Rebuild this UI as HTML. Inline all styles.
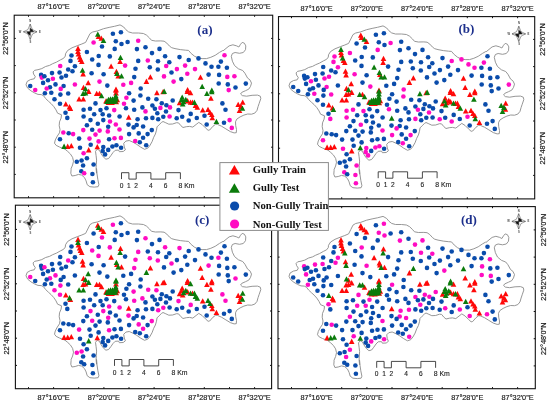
<!DOCTYPE html><html><head><meta charset="utf-8"><title>Gully sample maps</title><style>html,body{margin:0;padding:0;background:#fff}svg{display:block}text{font-family:"Liberation Sans",Arial,sans-serif}.s{font-family:"Liberation Serif","Times New Roman",serif;font-weight:bold}</style></head><body>
<svg width="550" height="403" viewBox="0 0 550 403">
<rect width="550" height="403" fill="#fff"/>
<g id="panel-a">
<path d="M61.5 114.8L57.6 113.2L56.0 109.9L53.8 106.6L51.1 103.6L48.4 101.2L45.6 98.5L43.5 95.7L41.3 94.6L38.0 94.4L34.7 93.0L30.9 90.8L27.6 88.1L26.0 84.8L27.1 81.5L30.4 79.6L34.2 78.8L35.3 76.6L33.6 74.1L33.1 71.9L34.7 70.3L38.0 69.7L41.8 68.6L45.6 66.5L49.5 65.4L52.7 63.7L56.5 62.1L60.4 59.9L63.6 58.3L65.3 56.1L65.5 53.8L67.6 50.5L72.0 47.8L77.5 45.6L81.8 44.0L85.6 42.4L87.8 38.0L90.0 33.6L92.7 32.0L97.6 30.9L103.6 28.7L109.1 27.4L114.5 26.3L120.0 24.9L121.0 25.4L123.7 27.0L125.9 29.7L128.6 31.9L132.5 33.0L138.5 33.0L143.4 33.5L146.6 35.2L149.4 37.9L151.5 40.3L155.4 41.0L160.8 40.9L164.1 41.2L166.8 43.1L169.5 46.1L171.7 47.7L175.0 48.6L180.3 49.6L185.7 50.2L188.5 50.4L191.2 53.5L194.5 56.2L197.7 57.8L202.1 58.6L206.5 58.6L210.8 57.3L215.2 55.3L219.5 52.4L222.8 50.5L223.1 50.8L229.1 45.9L232.9 44.8L236.7 45.9L238.9 47.0L240.5 44.3L242.2 42.4L244.4 43.2L245.8 45.9L245.5 49.7L243.3 52.5L239.5 53.3L235.1 52.5L232.4 53.5L231.3 56.3L232.4 61.2L234.5 65.5L238.4 68.8L242.7 70.5L244.9 73.2L247.6 78.1L249.9 79.8L251.5 83.1L250.5 86.4L248.8 89.1L245.5 90.7L241.7 92.4L240.6 94.0L242.3 95.6L246.6 96.2L252.1 95.3L257.5 95.1L260.3 96.2L260.8 98.6L259.2 103.3L258.1 106.5L257.0 110.4L254.8 113.1L251.5 114.2L247.7 114.0L243.9 115.1L240.1 116.9L236.8 119.1L235.5 121.8L235.7 125.6L236.5 129.5L236.3 132.7L234.1 132.9L230.3 131.6L225.9 128.9L221.5 126.2L217.7 124.5L215.7 124.2L213.0 126.2L209.7 130.0L208.1 130.3L205.4 127.8L202.1 124.5L198.8 122.4L196.1 124.5L192.8 127.1L189.5 126.4L186.3 126.7L183.0 127.5L180.8 125.6L178.6 122.9L176.5 122.7L172.6 124.0L168.8 124.2L165.2 122.5L163.0 121.5L161.4 122.5L159.2 124.7L157.0 126.9L156.5 130.2L155.4 134.0L153.7 137.3L152.1 141.6L149.9 145.5L147.7 148.2L144.5 149.3L140.6 147.1L136.8 144.4L133.0 142.2L129.2 140.5L125.9 141.1L123.7 143.3L124.3 147.1L125.4 149.8L123.2 151.5L119.4 151.7L118.5 150.1L115.2 150.3L113.0 152.5L110.8 155.7L108.6 158.5L105.9 159.2L103.2 156.8L101.0 153.5L99.4 150.3L97.2 149.2L95.5 151.4L96.1 155.7L96.6 160.1L96.3 164.5L96.1 168.8L96.6 173.2L96.5 168.4L97.0 173.8L97.8 179.3L98.9 184.7L98.1 186.7L94.3 187.1L89.9 186.7L87.2 184.7L86.1 180.9L84.5 177.6L81.7 175.1L78.5 174.4L75.2 175.5L71.9 176.0L70.8 173.3L71.1 169.5L71.0 168.8L72.6 165.0L73.5 161.2L72.6 157.4L70.5 154.1L67.7 151.4L65.0 149.2L59.5 147.0L56.2 145.4L54.5 143.2L55.3 139.9L57.3 136.1L59.5 132.8L60.0 129.5L59.2 125.7L59.5 121.9L61.1 118.1Z" fill="#fff" stroke="#8a8a8a" stroke-width="0.9" stroke-linejoin="round"/>
<circle cx="112.9" cy="33.8" r="2.3" fill="#0a4cab"/>
<circle cx="115.8" cy="41.3" r="2.3" fill="#0a4cab"/>
<circle cx="93.6" cy="42.5" r="2.3" fill="#ff0cc2"/>
<circle cx="102.0" cy="46.5" r="2.3" fill="#0a4cab"/>
<circle cx="114.7" cy="48.9" r="2.3" fill="#0a4cab"/>
<circle cx="86.9" cy="52.0" r="2.3" fill="#0a4cab"/>
<circle cx="98.7" cy="56.0" r="2.3" fill="#0a4cab"/>
<circle cx="109.8" cy="56.4" r="2.3" fill="#0a4cab"/>
<circle cx="92.2" cy="59.5" r="2.3" fill="#0a4cab"/>
<circle cx="71.5" cy="55.5" r="2.3" fill="#0a4cab"/>
<circle cx="70.5" cy="60.9" r="2.3" fill="#0a4cab"/>
<circle cx="98.5" cy="64.9" r="2.3" fill="#0a4cab"/>
<circle cx="60.2" cy="66.0" r="2.3" fill="#ff0cc2"/>
<circle cx="74.9" cy="66.2" r="2.3" fill="#0a4cab"/>
<circle cx="68.2" cy="69.5" r="2.3" fill="#0a4cab"/>
<circle cx="72.5" cy="71.3" r="2.3" fill="#0a4cab"/>
<circle cx="91.6" cy="73.3" r="2.3" fill="#0a4cab"/>
<circle cx="103.6" cy="74.2" r="2.3" fill="#0a4cab"/>
<circle cx="52.0" cy="73.1" r="2.3" fill="#0a4cab"/>
<circle cx="59.6" cy="72.5" r="2.3" fill="#0a4cab"/>
<circle cx="41.1" cy="74.9" r="2.3" fill="#0a4cab"/>
<circle cx="41.8" cy="77.6" r="2.3" fill="#ff0cc2"/>
<circle cx="44.4" cy="76.2" r="2.3" fill="#0a4cab"/>
<circle cx="61.5" cy="77.5" r="2.3" fill="#0a4cab"/>
<circle cx="66.0" cy="75.8" r="2.3" fill="#0a4cab"/>
<circle cx="52.9" cy="78.7" r="2.3" fill="#ff0cc2"/>
<circle cx="48.0" cy="80.2" r="2.3" fill="#0a4cab"/>
<circle cx="43.1" cy="82.9" r="2.3" fill="#0a4cab"/>
<circle cx="55.5" cy="84.4" r="2.3" fill="#0a4cab"/>
<circle cx="99.5" cy="81.6" r="2.3" fill="#ff0cc2"/>
<circle cx="74.9" cy="84.5" r="2.3" fill="#ff0cc2"/>
<circle cx="30.2" cy="86.0" r="2.3" fill="#0a4cab"/>
<circle cx="50.0" cy="87.3" r="2.3" fill="#0a4cab"/>
<circle cx="63.6" cy="86.0" r="2.3" fill="#0a4cab"/>
<circle cx="35.2" cy="90.0" r="2.3" fill="#ff0cc2"/>
<circle cx="46.7" cy="88.5" r="2.3" fill="#ff0cc2"/>
<circle cx="60.7" cy="88.9" r="2.3" fill="#ff0cc2"/>
<circle cx="107.3" cy="85.6" r="2.3" fill="#0a4cab"/>
<circle cx="120.9" cy="32.2" r="2.3" fill="#0a4cab"/>
<circle cx="127.6" cy="42.0" r="2.3" fill="#0a4cab"/>
<circle cx="121.5" cy="44.0" r="2.3" fill="#0a4cab"/>
<circle cx="138.2" cy="40.7" r="2.3" fill="#ff0cc2"/>
<circle cx="136.9" cy="49.1" r="2.3" fill="#0a4cab"/>
<circle cx="145.5" cy="47.3" r="2.3" fill="#0a4cab"/>
<circle cx="159.5" cy="48.9" r="2.3" fill="#0a4cab"/>
<circle cx="152.0" cy="53.1" r="2.3" fill="#0a4cab"/>
<circle cx="165.1" cy="56.2" r="2.3" fill="#0a4cab"/>
<circle cx="179.5" cy="57.1" r="2.3" fill="#0a4cab"/>
<circle cx="198.5" cy="58.4" r="2.3" fill="#0a4cab"/>
<circle cx="188.7" cy="60.0" r="2.3" fill="#0a4cab"/>
<circle cx="138.2" cy="60.9" r="2.3" fill="#0a4cab"/>
<circle cx="147.8" cy="60.5" r="2.3" fill="#ff0cc2"/>
<circle cx="158.0" cy="61.3" r="2.3" fill="#0a4cab"/>
<circle cx="169.3" cy="62.2" r="2.3" fill="#0a4cab"/>
<circle cx="205.5" cy="63.4" r="2.3" fill="#0a4cab"/>
<circle cx="125.1" cy="65.6" r="2.3" fill="#ff0cc2"/>
<circle cx="166.2" cy="66.0" r="2.3" fill="#ff0cc2"/>
<circle cx="185.1" cy="65.6" r="2.3" fill="#ff0cc2"/>
<circle cx="211.5" cy="66.7" r="2.3" fill="#0a4cab"/>
<circle cx="218.4" cy="66.7" r="2.3" fill="#0a4cab"/>
<circle cx="135.5" cy="68.7" r="2.3" fill="#0a4cab"/>
<circle cx="149.8" cy="67.3" r="2.3" fill="#0a4cab"/>
<circle cx="157.8" cy="69.5" r="2.3" fill="#0a4cab"/>
<circle cx="176.9" cy="69.1" r="2.3" fill="#ff0cc2"/>
<circle cx="195.0" cy="69.1" r="2.3" fill="#ff0cc2"/>
<circle cx="171.5" cy="72.5" r="2.3" fill="#0a4cab"/>
<circle cx="187.3" cy="73.8" r="2.3" fill="#ff0cc2"/>
<circle cx="208.6" cy="74.6" r="2.3" fill="#0a4cab"/>
<circle cx="219.1" cy="74.9" r="2.3" fill="#0a4cab"/>
<circle cx="134.2" cy="77.1" r="2.3" fill="#0a4cab"/>
<circle cx="164.0" cy="76.4" r="2.3" fill="#ff0cc2"/>
<circle cx="181.3" cy="79.1" r="2.3" fill="#0a4cab"/>
<circle cx="173.6" cy="81.6" r="2.3" fill="#ff0cc2"/>
<circle cx="131.1" cy="82.9" r="2.3" fill="#ff0cc2"/>
<circle cx="123.3" cy="84.7" r="2.3" fill="#ff0cc2"/>
<circle cx="140.7" cy="88.5" r="2.3" fill="#0a4cab"/>
<circle cx="218.7" cy="83.5" r="2.3" fill="#0a4cab"/>
<circle cx="224.5" cy="55.3" r="2.3" fill="#ff0cc2"/>
<circle cx="220.9" cy="61.6" r="2.3" fill="#0a4cab"/>
<circle cx="226.9" cy="67.8" r="2.3" fill="#0a4cab"/>
<circle cx="227.3" cy="76.9" r="2.3" fill="#ff0cc2"/>
<circle cx="234.4" cy="76.2" r="2.3" fill="#ff0cc2"/>
<circle cx="227.8" cy="84.4" r="2.3" fill="#0a4cab"/>
<circle cx="245.8" cy="83.6" r="2.3" fill="#0a4cab"/>
<circle cx="235.5" cy="87.5" r="2.3" fill="#0a4cab"/>
<circle cx="228.7" cy="90.1" r="2.3" fill="#ff0cc2"/>
<circle cx="44.9" cy="93.2" r="2.3" fill="#0a4cab"/>
<circle cx="51.3" cy="92.8" r="2.3" fill="#0a4cab"/>
<circle cx="60.4" cy="94.6" r="2.3" fill="#0a4cab"/>
<circle cx="68.2" cy="93.5" r="2.3" fill="#0a4cab"/>
<circle cx="54.5" cy="99.2" r="2.3" fill="#0a4cab"/>
<circle cx="60.0" cy="103.7" r="2.3" fill="#0a4cab"/>
<circle cx="95.5" cy="103.4" r="2.3" fill="#0a4cab"/>
<circle cx="83.6" cy="109.7" r="2.3" fill="#0a4cab"/>
<circle cx="90.0" cy="108.8" r="2.3" fill="#0a4cab"/>
<circle cx="100.5" cy="110.1" r="2.3" fill="#0a4cab"/>
<circle cx="106.5" cy="108.3" r="2.3" fill="#0a4cab"/>
<circle cx="114.2" cy="110.1" r="2.3" fill="#ff0cc2"/>
<circle cx="65.5" cy="112.8" r="2.3" fill="#0a4cab"/>
<circle cx="67.3" cy="117.9" r="2.3" fill="#0a4cab"/>
<circle cx="83.6" cy="116.5" r="2.3" fill="#0a4cab"/>
<circle cx="94.2" cy="114.3" r="2.3" fill="#0a4cab"/>
<circle cx="102.7" cy="114.3" r="2.3" fill="#0a4cab"/>
<circle cx="109.1" cy="115.5" r="2.3" fill="#0a4cab"/>
<circle cx="119.6" cy="116.5" r="2.3" fill="#0a4cab"/>
<circle cx="90.5" cy="120.1" r="2.3" fill="#0a4cab"/>
<circle cx="103.3" cy="120.1" r="2.3" fill="#0a4cab"/>
<circle cx="110.0" cy="121.5" r="2.3" fill="#ff0cc2"/>
<circle cx="86.9" cy="125.2" r="2.3" fill="#0a4cab"/>
<circle cx="97.8" cy="123.7" r="2.3" fill="#0a4cab"/>
<circle cx="115.8" cy="124.5" r="2.3" fill="#ff0cc2"/>
<circle cx="108.2" cy="126.8" r="2.3" fill="#0a4cab"/>
<circle cx="83.3" cy="130.1" r="2.3" fill="#ff0cc2"/>
<circle cx="92.2" cy="129.7" r="2.3" fill="#0a4cab"/>
<circle cx="99.6" cy="130.6" r="2.3" fill="#ff0cc2"/>
<circle cx="107.8" cy="131.4" r="2.3" fill="#ff0cc2"/>
<circle cx="119.5" cy="129.5" r="2.3" fill="#ff0cc2"/>
<circle cx="63.3" cy="132.5" r="2.3" fill="#ff0cc2"/>
<circle cx="68.7" cy="133.2" r="2.3" fill="#0a4cab"/>
<circle cx="73.1" cy="134.1" r="2.3" fill="#ff0cc2"/>
<circle cx="95.5" cy="134.6" r="2.3" fill="#ff0cc2"/>
<circle cx="60.0" cy="139.2" r="2.3" fill="#0a4cab"/>
<circle cx="79.1" cy="138.6" r="2.3" fill="#0a4cab"/>
<circle cx="89.5" cy="138.6" r="2.3" fill="#ff0cc2"/>
<circle cx="109.1" cy="139.2" r="2.3" fill="#0a4cab"/>
<circle cx="114.5" cy="138.3" r="2.3" fill="#ff0cc2"/>
<circle cx="98.6" cy="141.4" r="2.3" fill="#ff0cc2"/>
<circle cx="90.7" cy="144.8" r="2.3" fill="#0a4cab"/>
<circle cx="80.0" cy="147.7" r="2.3" fill="#0a4cab"/>
<circle cx="103.3" cy="147.1" r="2.3" fill="#0a4cab"/>
<circle cx="112.4" cy="146.5" r="2.3" fill="#0a4cab"/>
<circle cx="116.4" cy="145.3" r="2.3" fill="#0a4cab"/>
<circle cx="108.2" cy="149.9" r="2.3" fill="#0a4cab"/>
<circle cx="102.7" cy="151.1" r="2.3" fill="#0a4cab"/>
<circle cx="83.6" cy="153.2" r="2.3" fill="#ff0cc2"/>
<circle cx="105.1" cy="154.4" r="2.3" fill="#0a4cab"/>
<circle cx="86.9" cy="158.2" r="2.3" fill="#0a4cab"/>
<circle cx="81.6" cy="160.5" r="2.3" fill="#0a4cab"/>
<circle cx="76.8" cy="161.7" r="2.3" fill="#0a4cab"/>
<circle cx="129.1" cy="93.2" r="2.3" fill="#0a4cab"/>
<circle cx="140.4" cy="95.5" r="2.3" fill="#0a4cab"/>
<circle cx="126.4" cy="97.7" r="2.3" fill="#ff0cc2"/>
<circle cx="148.2" cy="98.8" r="2.3" fill="#0a4cab"/>
<circle cx="156.4" cy="99.2" r="2.3" fill="#0a4cab"/>
<circle cx="133.6" cy="100.6" r="2.3" fill="#0a4cab"/>
<circle cx="172.7" cy="100.5" r="2.3" fill="#0a4cab"/>
<circle cx="124.0" cy="103.7" r="2.3" fill="#ff0cc2"/>
<circle cx="161.8" cy="103.2" r="2.3" fill="#0a4cab"/>
<circle cx="152.4" cy="105.5" r="2.3" fill="#0a4cab"/>
<circle cx="166.4" cy="105.2" r="2.3" fill="#0a4cab"/>
<circle cx="126.0" cy="108.3" r="2.3" fill="#0a4cab"/>
<circle cx="142.4" cy="107.4" r="2.3" fill="#0a4cab"/>
<circle cx="160.4" cy="107.9" r="2.3" fill="#ff0cc2"/>
<circle cx="170.0" cy="107.4" r="2.3" fill="#ff0cc2"/>
<circle cx="154.9" cy="108.8" r="2.3" fill="#0a4cab"/>
<circle cx="134.2" cy="109.7" r="2.3" fill="#0a4cab"/>
<circle cx="145.5" cy="111.4" r="2.3" fill="#ff0cc2"/>
<circle cx="166.0" cy="111.5" r="2.3" fill="#0a4cab"/>
<circle cx="178.5" cy="110.1" r="2.3" fill="#0a4cab"/>
<circle cx="157.3" cy="113.2" r="2.3" fill="#0a4cab"/>
<circle cx="163.3" cy="116.8" r="2.3" fill="#0a4cab"/>
<circle cx="169.6" cy="116.5" r="2.3" fill="#ff0cc2"/>
<circle cx="137.6" cy="119.2" r="2.3" fill="#0a4cab"/>
<circle cx="146.0" cy="118.3" r="2.3" fill="#0a4cab"/>
<circle cx="152.4" cy="117.9" r="2.3" fill="#0a4cab"/>
<circle cx="158.2" cy="119.2" r="2.3" fill="#0a4cab"/>
<circle cx="176.7" cy="118.3" r="2.3" fill="#0a4cab"/>
<circle cx="182.2" cy="116.8" r="2.3" fill="#0a4cab"/>
<circle cx="190.7" cy="113.9" r="2.3" fill="#0a4cab"/>
<circle cx="188.7" cy="120.5" r="2.3" fill="#0a4cab"/>
<circle cx="196.8" cy="118.0" r="2.3" fill="#0a4cab"/>
<circle cx="204.5" cy="115.7" r="2.3" fill="#0a4cab"/>
<circle cx="206.7" cy="124.5" r="2.3" fill="#0a4cab"/>
<circle cx="128.5" cy="124.6" r="2.3" fill="#0a4cab"/>
<circle cx="136.7" cy="125.0" r="2.3" fill="#0a4cab"/>
<circle cx="133.6" cy="127.4" r="2.3" fill="#0a4cab"/>
<circle cx="143.1" cy="126.5" r="2.3" fill="#0a4cab"/>
<circle cx="151.8" cy="130.1" r="2.3" fill="#0a4cab"/>
<circle cx="129.1" cy="134.1" r="2.3" fill="#0a4cab"/>
<circle cx="138.7" cy="133.4" r="2.3" fill="#0a4cab"/>
<circle cx="147.6" cy="134.1" r="2.3" fill="#0a4cab"/>
<circle cx="120.9" cy="137.9" r="2.3" fill="#ff0cc2"/>
<circle cx="143.1" cy="137.7" r="2.3" fill="#0a4cab"/>
<circle cx="135.2" cy="141.0" r="2.3" fill="#ff0cc2"/>
<circle cx="139.8" cy="142.3" r="2.3" fill="#0a4cab"/>
<circle cx="146.2" cy="145.3" r="2.3" fill="#0a4cab"/>
<circle cx="121.1" cy="147.7" r="2.3" fill="#0a4cab"/>
<circle cx="222.4" cy="103.4" r="2.3" fill="#0a4cab"/>
<circle cx="225.5" cy="109.7" r="2.3" fill="#0a4cab"/>
<circle cx="224.0" cy="122.8" r="2.3" fill="#0a4cab"/>
<circle cx="229.6" cy="120.1" r="2.3" fill="#ff0cc2"/>
<circle cx="231.8" cy="127.9" r="2.3" fill="#ff0cc2"/>
<circle cx="93.6" cy="164.5" r="2.3" fill="#0a4cab"/>
<circle cx="83.1" cy="165.5" r="2.3" fill="#0a4cab"/>
<circle cx="81.3" cy="171.3" r="2.3" fill="#0a4cab"/>
<circle cx="84.2" cy="173.3" r="2.3" fill="#ff0cc2"/>
<circle cx="92.4" cy="174.0" r="2.3" fill="#0a4cab"/>
<circle cx="92.9" cy="182.2" r="2.3" fill="#0a4cab"/>
<path d="M95.7 39.1L101.3 39.1L98.5 33.8Z" fill="#ff0808"/>
<path d="M98.5 40.8L104.1 40.8L101.3 35.5Z" fill="#ff0808"/>
<path d="M75.2 50.9L80.8 50.9L78.0 45.6Z" fill="#ff0808"/>
<path d="M75.2 53.9L80.8 53.9L78.0 48.6Z" fill="#ff0808"/>
<path d="M75.7 56.6L81.3 56.6L78.5 51.3Z" fill="#ff0808"/>
<path d="M76.8 59.5L82.4 59.5L79.6 54.2Z" fill="#ff0808"/>
<path d="M77.7 61.9L83.3 61.9L80.5 56.6Z" fill="#ff0808"/>
<path d="M79.0 64.0L84.6 64.0L81.8 58.7Z" fill="#ff0808"/>
<path d="M108.3 68.8L113.9 68.8L111.1 63.5Z" fill="#ff0808"/>
<path d="M117.3 64.0L122.9 64.0L120.1 58.7Z" fill="#ff0808"/>
<path d="M80.3 76.4L85.9 76.4L83.1 71.1Z" fill="#ff0808"/>
<path d="M113.6 74.0L119.2 74.0L116.4 68.7Z" fill="#ff0808"/>
<path d="M115.4 78.6L121.0 78.6L118.2 73.3Z" fill="#ff0808"/>
<path d="M85.4 85.3L91.0 85.3L88.2 80.0Z" fill="#ff0808"/>
<path d="M80.7 90.0L86.3 90.0L83.5 84.7Z" fill="#ff0808"/>
<path d="M113.2 91.7L118.8 91.7L116.0 86.4Z" fill="#ff0808"/>
<path d="M147.6 79.5L153.2 79.5L150.4 74.2Z" fill="#ff0808"/>
<path d="M143.6 83.9L149.2 83.9L146.4 78.6Z" fill="#ff0808"/>
<path d="M197.7 79.8L203.3 79.8L200.5 74.5Z" fill="#ff0808"/>
<path d="M184.8 92.2L190.4 92.2L187.6 86.9Z" fill="#ff0808"/>
<path d="M85.9 93.9L91.5 93.9L88.7 88.6Z" fill="#ff0808"/>
<path d="M93.9 96.1L99.5 96.1L96.7 90.8Z" fill="#ff0808"/>
<path d="M96.7 96.1L102.3 96.1L99.5 90.8Z" fill="#ff0808"/>
<path d="M76.3 101.6L81.9 101.6L79.1 96.3Z" fill="#ff0808"/>
<path d="M80.5 101.6L86.1 101.6L83.3 96.3Z" fill="#ff0808"/>
<path d="M63.0 106.5L68.6 106.5L65.8 101.2Z" fill="#ff0808"/>
<path d="M66.7 109.4L72.3 109.4L69.5 104.1Z" fill="#ff0808"/>
<path d="M67.6 111.0L73.2 111.0L70.4 105.7Z" fill="#ff0808"/>
<path d="M64.9 148.9L70.5 148.9L67.7 143.6Z" fill="#ff0808"/>
<path d="M68.5 148.2L74.1 148.2L71.3 142.9Z" fill="#ff0808"/>
<path d="M94.5 149.3L100.1 149.3L97.3 144.0Z" fill="#ff0808"/>
<path d="M85.9 152.4L91.5 152.4L88.7 147.1Z" fill="#ff0808"/>
<path d="M154.1 95.2L159.7 95.2L156.9 89.9Z" fill="#ff0808"/>
<path d="M160.3 94.3L165.9 94.3L163.1 89.0Z" fill="#ff0808"/>
<path d="M125.9 119.8L131.5 119.8L128.7 114.5Z" fill="#ff0808"/>
<path d="M176.8 105.2L182.4 105.2L179.6 99.9Z" fill="#ff0808"/>
<path d="M184.8 103.4L190.4 103.4L187.6 98.1Z" fill="#ff0808"/>
<path d="M187.7 104.7L193.3 104.7L190.5 99.4Z" fill="#ff0808"/>
<path d="M189.7 104.9L195.3 104.9L192.5 99.6Z" fill="#ff0808"/>
<path d="M192.7 107.9L198.3 107.9L195.5 102.6Z" fill="#ff0808"/>
<path d="M194.5 109.8L200.1 109.8L197.3 104.5Z" fill="#ff0808"/>
<path d="M184.5 93.9L190.1 93.9L187.3 88.6Z" fill="#ff0808"/>
<path d="M187.7 95.2L193.3 95.2L190.5 89.9Z" fill="#ff0808"/>
<path d="M208.1 100.7L213.7 100.7L210.9 95.4Z" fill="#ff0808"/>
<path d="M199.9 112.5L205.5 112.5L202.7 107.2Z" fill="#ff0808"/>
<path d="M205.2 112.1L210.8 112.1L208.0 106.8Z" fill="#ff0808"/>
<path d="M207.2 115.0L212.8 115.0L210.0 109.7Z" fill="#ff0808"/>
<path d="M209.0 117.0L214.6 117.0L211.8 111.7Z" fill="#ff0808"/>
<path d="M209.5 120.2L215.1 120.2L212.3 114.9Z" fill="#ff0808"/>
<path d="M239.9 104.7L245.5 104.7L242.7 99.4Z" fill="#ff0808"/>
<path d="M235.4 107.0L241.0 107.0L238.2 101.7Z" fill="#ff0808"/>
<path d="M238.1 108.9L243.7 108.9L240.9 103.6Z" fill="#ff0808"/>
<path d="M236.7 113.0L242.3 113.0L239.5 107.7Z" fill="#ff0808"/>
<path d="M113.2 95.4L118.8 95.4L116.0 90.1Z" fill="#ff0808"/>
<path d="M113.1 92.8L118.7 92.8L115.9 87.5Z" fill="#ff0808"/>
<path d="M114.5 102.2L120.1 102.2L117.3 96.9Z" fill="#ff0808"/>
<path d="M105.7 104.9L111.3 104.9L108.5 99.6Z" fill="#ff0808"/>
<path d="M109.2 105.1L114.8 105.1L112.0 99.8Z" fill="#ff0808"/>
<path d="M113.5 104.2L119.1 104.2L116.3 98.9Z" fill="#ff0808"/>
<path d="M103.2 103.6L108.8 103.6L106.0 98.3Z" fill="#ff0808"/>
<path d="M95.0 36.8L100.6 36.8L97.8 31.5Z" fill="#0b7b0b"/>
<path d="M100.7 43.1L106.3 43.1L103.5 37.8Z" fill="#0b7b0b"/>
<path d="M79.7 72.8L85.3 72.8L82.5 67.5Z" fill="#0b7b0b"/>
<path d="M114.1 75.9L119.7 75.9L116.9 70.6Z" fill="#0b7b0b"/>
<path d="M82.7 91.3L88.3 91.3L85.5 86.0Z" fill="#0b7b0b"/>
<path d="M117.7 60.0L123.3 60.0L120.5 54.7Z" fill="#0b7b0b"/>
<path d="M118.7 78.6L124.3 78.6L121.5 73.3Z" fill="#0b7b0b"/>
<path d="M199.4 89.1L205.0 89.1L202.2 83.8Z" fill="#0b7b0b"/>
<path d="M209.0 92.8L214.6 92.8L211.8 87.5Z" fill="#0b7b0b"/>
<path d="M80.3 96.1L85.9 96.1L83.1 90.8Z" fill="#0b7b0b"/>
<path d="M82.7 95.6L88.3 95.6L85.5 90.3Z" fill="#0b7b0b"/>
<path d="M98.7 98.3L104.3 98.3L101.5 93.0Z" fill="#0b7b0b"/>
<path d="M61.3 148.9L66.9 148.9L64.1 143.6Z" fill="#0b7b0b"/>
<path d="M161.4 93.9L167.0 93.9L164.2 88.6Z" fill="#0b7b0b"/>
<path d="M179.4 99.8L185.0 99.8L182.2 94.5Z" fill="#0b7b0b"/>
<path d="M178.7 102.5L184.3 102.5L181.5 97.2Z" fill="#0b7b0b"/>
<path d="M180.8 104.3L186.4 104.3L183.6 99.0Z" fill="#0b7b0b"/>
<path d="M179.9 106.5L185.5 106.5L182.7 101.2Z" fill="#0b7b0b"/>
<path d="M183.0 102.1L188.6 102.1L185.8 96.8Z" fill="#0b7b0b"/>
<path d="M191.6 104.9L197.2 104.9L194.4 99.6Z" fill="#0b7b0b"/>
<path d="M204.1 96.1L209.7 96.1L206.9 90.8Z" fill="#0b7b0b"/>
<path d="M209.0 94.3L214.6 94.3L211.8 89.0Z" fill="#0b7b0b"/>
<path d="M213.6 124.1L219.2 124.1L216.4 118.8Z" fill="#0b7b0b"/>
<path d="M239.6 110.7L245.2 110.7L242.4 105.4Z" fill="#0b7b0b"/>
<path d="M104.1 103.9L109.7 103.9L106.9 98.6Z" fill="#0b7b0b"/>
<path d="M106.2 104.0L111.8 104.0L109.0 98.7Z" fill="#0b7b0b"/>
<path d="M108.4 104.0L114.0 104.0L111.2 98.7Z" fill="#0b7b0b"/>
<path d="M110.6 104.0L116.2 104.0L113.4 98.7Z" fill="#0b7b0b"/>
<path d="M112.5 103.8L118.1 103.8L115.3 98.5Z" fill="#0b7b0b"/>
<path d="M105.7 102.0L111.3 102.0L108.5 96.7Z" fill="#0b7b0b"/>
<path d="M107.7 101.6L113.3 101.6L110.5 96.3Z" fill="#0b7b0b"/>
<path d="M109.7 101.6L115.3 101.6L112.5 96.3Z" fill="#0b7b0b"/>
<path d="M111.7 101.8L117.3 101.8L114.5 96.5Z" fill="#0b7b0b"/>
<path d="M113.2 101.6L118.8 101.6L116.0 96.3Z" fill="#0b7b0b"/>
<path d="M112.8 100.0L118.4 100.0L115.6 94.7Z" fill="#0b7b0b"/>
<path d="M113.0 98.2L118.6 98.2L115.8 92.9Z" fill="#0b7b0b"/>
<rect x="14.2" y="15.2" width="258.5" height="182.6" fill="none" stroke="#111" stroke-width="1.1"/>
<path d="M28.5 15.2v1.6M28.5 197.8v-1.6M53.6 15.2v1.6M53.6 197.8v-1.6M78.7 15.2v1.6M78.7 197.8v-1.6M103.9 15.2v1.6M103.9 197.8v-1.6M129.0 15.2v1.6M129.0 197.8v-1.6M154.1 15.2v1.6M154.1 197.8v-1.6M179.2 15.2v1.6M179.2 197.8v-1.6M204.3 15.2v1.6M204.3 197.8v-1.6M229.5 15.2v1.6M229.5 197.8v-1.6M254.6 15.2v1.6M254.6 197.8v-1.6M14.2 38.4h1.6M272.7 38.4h-1.6M14.2 65.6h1.6M272.7 65.6h-1.6M14.2 92.8h1.6M272.7 92.8h-1.6M14.2 120.0h1.6M272.7 120.0h-1.6M14.2 147.2h1.6M272.7 147.2h-1.6M14.2 174.4h1.6M272.7 174.4h-1.6" stroke="#111" stroke-width="1" fill="none"/>
<g transform="translate(30.2,31.8)" stroke="#222" stroke-width="0.42" stroke-linejoin="miter"><path d="M0 -7.7L2.25 -2.25L6.8 0L2.25 2.25L0 7.7L-2.25 2.25L-6.8 0L-2.25 -2.25Z" fill="#fff"/><path d="M0 -3.6L2.1374999999999997 -2.1374999999999997L3.4 0L0 0Z" fill="#111"/><path d="M0 3.6L-2.1374999999999997 2.1374999999999997L-3.4 0L0 0Z" fill="#111"/><path d="M0 -7.7V7.7M-6.8 0H6.8" fill="none" stroke-width="0.4"/></g><g font-size="2.7" font-weight="bold" fill="#444" text-anchor="middle"><text x="30.3" y="22.200000000000003">N</text><text x="30.5" y="43.2">S</text><text x="39.8" y="32.7">E</text><text x="20.1" y="32.7">W</text></g><path d="M121.5 179.1V172.7H128.9V179.1H136.2V172.7H150.9V179.1H165.7V172.7H180.4V179.1" fill="none" stroke="#333" stroke-width="0.9"/><g font-size="6.6" fill="#222" stroke="#222" stroke-width="0.12" text-anchor="middle"><text x="121.5" y="187.7">0</text><text x="128.9" y="187.7">1</text><text x="136.2" y="187.7">2</text><text x="150.9" y="187.7">4</text><text x="165.7" y="187.7">6</text></g><text font-size="6.9" fill="#222" stroke="#222" stroke-width="0.12" x="178.5" y="187.7">8 Km</text><text class="s" font-size="13" fill="#1c2f8c" x="197.3" y="34.3">(a)</text><g font-size="7.3" fill="#222" stroke="#222" stroke-width="0.18" text-anchor="middle"><text x="53.6" y="9.0">87°16'0"E</text><text x="103.8" y="9.0">87°20'0"E</text><text x="154.1" y="9.0">87°24'0"E</text><text x="204.3" y="9.0">87°28'0"E</text><text x="254.6" y="9.0">87°32'0"E</text><text transform="translate(8.3,38.5) rotate(-90)">22°56'0"N</text><text transform="translate(8.3,92.9) rotate(-90)">22°52'0"N</text><text transform="translate(8.3,147.3) rotate(-90)">22°48'0"N</text></g>
</g>
<g id="panel-b">
<path d="M324.5 115.8L320.6 114.2L319.0 110.9L316.8 107.6L314.1 104.6L311.4 102.2L308.6 99.5L306.5 96.7L304.3 95.6L301.0 95.4L297.7 94.0L293.9 91.8L290.6 89.1L289.0 85.8L290.1 82.5L293.4 80.6L297.2 79.8L298.3 77.6L296.6 75.1L296.1 72.9L297.7 71.3L301.0 70.7L304.8 69.6L308.6 67.5L312.5 66.4L315.7 64.7L319.5 63.1L323.4 60.9L326.6 59.3L328.3 57.1L328.5 54.8L330.6 51.5L335.0 48.8L340.5 46.6L344.8 45.0L348.6 43.4L350.8 39.0L353.0 34.6L355.7 33.0L360.6 31.9L366.6 29.7L372.1 28.4L377.5 27.3L383.0 25.9L384.0 26.4L386.7 28.0L388.9 30.7L391.6 32.9L395.5 34.0L401.5 34.0L406.4 34.5L409.6 36.2L412.4 38.9L414.5 41.3L418.4 42.0L423.8 41.9L427.1 42.2L429.8 44.1L432.5 47.1L434.7 48.7L438.0 49.6L443.3 50.6L448.7 51.2L451.5 51.4L454.2 54.5L457.5 57.2L460.7 58.8L465.1 59.6L469.5 59.6L473.8 58.3L478.2 56.3L482.5 53.4L485.8 51.5L486.1 51.8L492.1 46.9L495.9 45.8L499.7 46.9L501.9 48.0L503.5 45.3L505.2 43.4L507.4 44.2L508.8 46.9L508.5 50.7L506.3 53.5L502.5 54.3L498.1 53.5L495.4 54.5L494.3 57.3L495.4 62.2L497.5 66.5L501.4 69.8L505.7 71.5L507.9 74.2L510.6 79.1L512.9 80.8L514.5 84.1L513.5 87.4L511.8 90.1L508.5 91.7L504.7 93.4L503.6 95.0L505.3 96.6L509.6 97.2L515.1 96.3L520.5 96.1L523.3 97.2L523.8 99.6L522.2 104.3L521.1 107.5L520.0 111.4L517.8 114.1L514.5 115.2L510.7 115.0L506.9 116.1L503.1 117.9L499.8 120.1L498.5 122.8L498.7 126.6L499.5 130.5L499.3 133.7L497.1 133.9L493.3 132.6L488.9 129.9L484.5 127.2L480.7 125.5L478.7 125.2L476.0 127.2L472.7 131.0L471.1 131.3L468.4 128.8L465.1 125.5L461.8 123.4L459.1 125.5L455.8 128.1L452.5 127.4L449.3 127.7L446.0 128.5L443.8 126.6L441.6 123.9L439.5 123.7L435.6 125.0L431.8 125.2L428.2 123.5L426.0 122.5L424.4 123.5L422.2 125.7L420.0 127.9L419.5 131.2L418.4 135.0L416.7 138.3L415.1 142.6L412.9 146.5L410.7 149.2L407.5 150.3L403.6 148.1L399.8 145.4L396.0 143.2L392.2 141.5L388.9 142.1L386.7 144.3L387.3 148.1L388.4 150.8L386.2 152.5L382.4 152.7L381.5 151.1L378.2 151.3L376.0 153.5L373.8 156.7L371.6 159.5L368.9 160.2L366.2 157.8L364.0 154.5L362.4 151.3L360.2 150.2L358.5 152.4L359.1 156.7L359.6 161.1L359.3 165.5L359.1 169.8L359.6 174.2L359.5 169.4L360.0 174.8L360.8 180.3L361.9 185.7L361.1 187.7L357.3 188.1L352.9 187.7L350.2 185.7L349.1 181.9L347.5 178.6L344.7 176.1L341.5 175.4L338.2 176.5L334.9 177.0L333.8 174.3L334.1 170.5L334.0 169.8L335.6 166.0L336.5 162.2L335.6 158.4L333.5 155.1L330.7 152.4L328.0 150.2L322.5 148.0L319.2 146.4L317.5 144.2L318.3 140.9L320.3 137.1L322.5 133.8L323.0 130.5L322.2 126.7L322.5 122.9L324.1 119.1Z" fill="#fff" stroke="#8a8a8a" stroke-width="0.9" stroke-linejoin="round"/>
<circle cx="375.9" cy="34.8" r="2.3" fill="#0a4cab"/>
<circle cx="378.8" cy="42.3" r="2.3" fill="#0a4cab"/>
<circle cx="356.6" cy="43.5" r="2.3" fill="#0a4cab"/>
<circle cx="365.0" cy="47.5" r="2.3" fill="#0a4cab"/>
<circle cx="377.7" cy="49.9" r="2.3" fill="#ff0cc2"/>
<circle cx="349.9" cy="53.0" r="2.3" fill="#ff0cc2"/>
<circle cx="361.7" cy="57.0" r="2.3" fill="#0a4cab"/>
<circle cx="372.8" cy="57.4" r="2.3" fill="#0a4cab"/>
<circle cx="355.2" cy="60.5" r="2.3" fill="#0a4cab"/>
<circle cx="334.5" cy="56.5" r="2.3" fill="#ff0cc2"/>
<circle cx="333.5" cy="61.9" r="2.3" fill="#ff0cc2"/>
<circle cx="361.5" cy="65.9" r="2.3" fill="#0a4cab"/>
<circle cx="323.2" cy="67.0" r="2.3" fill="#0a4cab"/>
<circle cx="337.9" cy="67.2" r="2.3" fill="#ff0cc2"/>
<circle cx="331.2" cy="70.5" r="2.3" fill="#0a4cab"/>
<circle cx="335.5" cy="72.3" r="2.3" fill="#0a4cab"/>
<circle cx="354.6" cy="74.3" r="2.3" fill="#ff0cc2"/>
<circle cx="366.6" cy="75.2" r="2.3" fill="#0a4cab"/>
<circle cx="315.0" cy="74.1" r="2.3" fill="#0a4cab"/>
<circle cx="322.6" cy="73.5" r="2.3" fill="#0a4cab"/>
<circle cx="304.1" cy="75.9" r="2.3" fill="#0a4cab"/>
<circle cx="304.8" cy="78.6" r="2.3" fill="#0a4cab"/>
<circle cx="307.4" cy="77.2" r="2.3" fill="#0a4cab"/>
<circle cx="324.5" cy="78.5" r="2.3" fill="#ff0cc2"/>
<circle cx="329.0" cy="76.8" r="2.3" fill="#ff0cc2"/>
<circle cx="315.9" cy="79.7" r="2.3" fill="#0a4cab"/>
<circle cx="311.0" cy="81.2" r="2.3" fill="#ff0cc2"/>
<circle cx="306.1" cy="83.9" r="2.3" fill="#0a4cab"/>
<circle cx="318.5" cy="85.4" r="2.3" fill="#0a4cab"/>
<circle cx="362.5" cy="82.6" r="2.3" fill="#0a4cab"/>
<circle cx="337.9" cy="85.5" r="2.3" fill="#0a4cab"/>
<circle cx="293.2" cy="87.0" r="2.3" fill="#0a4cab"/>
<circle cx="313.0" cy="88.3" r="2.3" fill="#0a4cab"/>
<circle cx="326.6" cy="87.0" r="2.3" fill="#ff0cc2"/>
<circle cx="298.2" cy="91.0" r="2.3" fill="#0a4cab"/>
<circle cx="309.7" cy="89.5" r="2.3" fill="#0a4cab"/>
<circle cx="323.7" cy="89.9" r="2.3" fill="#0a4cab"/>
<circle cx="370.3" cy="86.6" r="2.3" fill="#ff0cc2"/>
<circle cx="383.9" cy="33.2" r="2.3" fill="#0a4cab"/>
<circle cx="390.6" cy="43.0" r="2.3" fill="#ff0cc2"/>
<circle cx="384.5" cy="45.0" r="2.3" fill="#0a4cab"/>
<circle cx="401.2" cy="41.7" r="2.3" fill="#0a4cab"/>
<circle cx="399.9" cy="50.1" r="2.3" fill="#0a4cab"/>
<circle cx="408.5" cy="48.3" r="2.3" fill="#0a4cab"/>
<circle cx="422.5" cy="49.9" r="2.3" fill="#0a4cab"/>
<circle cx="415.0" cy="54.1" r="2.3" fill="#0a4cab"/>
<circle cx="428.1" cy="57.2" r="2.3" fill="#0a4cab"/>
<circle cx="442.5" cy="58.1" r="2.3" fill="#0a4cab"/>
<circle cx="461.5" cy="59.4" r="2.3" fill="#ff0cc2"/>
<circle cx="451.7" cy="61.0" r="2.3" fill="#ff0cc2"/>
<circle cx="401.2" cy="61.9" r="2.3" fill="#0a4cab"/>
<circle cx="410.8" cy="61.5" r="2.3" fill="#0a4cab"/>
<circle cx="421.0" cy="62.3" r="2.3" fill="#0a4cab"/>
<circle cx="432.3" cy="63.2" r="2.3" fill="#0a4cab"/>
<circle cx="468.5" cy="64.4" r="2.3" fill="#ff0cc2"/>
<circle cx="388.1" cy="66.6" r="2.3" fill="#0a4cab"/>
<circle cx="429.2" cy="67.0" r="2.3" fill="#0a4cab"/>
<circle cx="448.1" cy="66.6" r="2.3" fill="#0a4cab"/>
<circle cx="474.5" cy="67.7" r="2.3" fill="#ff0cc2"/>
<circle cx="481.4" cy="67.7" r="2.3" fill="#0a4cab"/>
<circle cx="398.5" cy="69.7" r="2.3" fill="#0a4cab"/>
<circle cx="412.8" cy="68.3" r="2.3" fill="#0a4cab"/>
<circle cx="420.8" cy="70.5" r="2.3" fill="#0a4cab"/>
<circle cx="439.9" cy="70.1" r="2.3" fill="#0a4cab"/>
<circle cx="458.0" cy="70.1" r="2.3" fill="#0a4cab"/>
<circle cx="434.5" cy="73.5" r="2.3" fill="#0a4cab"/>
<circle cx="450.3" cy="74.8" r="2.3" fill="#0a4cab"/>
<circle cx="471.6" cy="75.6" r="2.3" fill="#0a4cab"/>
<circle cx="482.1" cy="75.9" r="2.3" fill="#0a4cab"/>
<circle cx="397.2" cy="78.1" r="2.3" fill="#0a4cab"/>
<circle cx="427.0" cy="77.4" r="2.3" fill="#0a4cab"/>
<circle cx="444.3" cy="80.1" r="2.3" fill="#0a4cab"/>
<circle cx="436.6" cy="82.6" r="2.3" fill="#0a4cab"/>
<circle cx="394.1" cy="83.9" r="2.3" fill="#0a4cab"/>
<circle cx="386.3" cy="85.7" r="2.3" fill="#0a4cab"/>
<circle cx="403.7" cy="89.5" r="2.3" fill="#ff0cc2"/>
<circle cx="481.7" cy="84.5" r="2.3" fill="#0a4cab"/>
<circle cx="487.5" cy="56.3" r="2.3" fill="#0a4cab"/>
<circle cx="483.9" cy="62.6" r="2.3" fill="#ff0cc2"/>
<circle cx="489.9" cy="68.8" r="2.3" fill="#0a4cab"/>
<circle cx="490.3" cy="77.9" r="2.3" fill="#0a4cab"/>
<circle cx="497.4" cy="77.2" r="2.3" fill="#0a4cab"/>
<circle cx="490.8" cy="85.4" r="2.3" fill="#0a4cab"/>
<circle cx="508.8" cy="84.6" r="2.3" fill="#ff0cc2"/>
<circle cx="498.5" cy="88.5" r="2.3" fill="#0a4cab"/>
<circle cx="491.7" cy="91.1" r="2.3" fill="#0a4cab"/>
<circle cx="307.9" cy="94.2" r="2.3" fill="#0a4cab"/>
<circle cx="314.3" cy="93.8" r="2.3" fill="#ff0cc2"/>
<circle cx="323.4" cy="95.6" r="2.3" fill="#0a4cab"/>
<circle cx="331.2" cy="94.5" r="2.3" fill="#ff0cc2"/>
<circle cx="317.5" cy="100.2" r="2.3" fill="#0a4cab"/>
<circle cx="323.0" cy="104.7" r="2.3" fill="#0a4cab"/>
<circle cx="358.5" cy="104.4" r="2.3" fill="#0a4cab"/>
<circle cx="346.6" cy="110.7" r="2.3" fill="#ff0cc2"/>
<circle cx="353.0" cy="109.8" r="2.3" fill="#ff0cc2"/>
<circle cx="363.5" cy="111.1" r="2.3" fill="#ff0cc2"/>
<circle cx="369.5" cy="109.3" r="2.3" fill="#0a4cab"/>
<circle cx="377.2" cy="111.1" r="2.3" fill="#0a4cab"/>
<circle cx="328.5" cy="113.8" r="2.3" fill="#0a4cab"/>
<circle cx="330.3" cy="118.9" r="2.3" fill="#ff0cc2"/>
<circle cx="346.6" cy="117.5" r="2.3" fill="#ff0cc2"/>
<circle cx="357.2" cy="115.3" r="2.3" fill="#0a4cab"/>
<circle cx="365.7" cy="115.3" r="2.3" fill="#0a4cab"/>
<circle cx="372.1" cy="116.5" r="2.3" fill="#0a4cab"/>
<circle cx="382.6" cy="117.5" r="2.3" fill="#0a4cab"/>
<circle cx="353.5" cy="121.1" r="2.3" fill="#0a4cab"/>
<circle cx="366.3" cy="121.1" r="2.3" fill="#0a4cab"/>
<circle cx="373.0" cy="122.5" r="2.3" fill="#0a4cab"/>
<circle cx="349.9" cy="126.2" r="2.3" fill="#0a4cab"/>
<circle cx="360.8" cy="124.7" r="2.3" fill="#ff0cc2"/>
<circle cx="378.8" cy="125.5" r="2.3" fill="#0a4cab"/>
<circle cx="371.2" cy="127.8" r="2.3" fill="#0a4cab"/>
<circle cx="346.3" cy="131.1" r="2.3" fill="#0a4cab"/>
<circle cx="355.2" cy="130.7" r="2.3" fill="#0a4cab"/>
<circle cx="362.6" cy="131.6" r="2.3" fill="#0a4cab"/>
<circle cx="370.8" cy="132.4" r="2.3" fill="#0a4cab"/>
<circle cx="382.5" cy="130.5" r="2.3" fill="#ff0cc2"/>
<circle cx="326.3" cy="133.5" r="2.3" fill="#0a4cab"/>
<circle cx="331.7" cy="134.2" r="2.3" fill="#0a4cab"/>
<circle cx="336.1" cy="135.1" r="2.3" fill="#0a4cab"/>
<circle cx="358.5" cy="135.6" r="2.3" fill="#0a4cab"/>
<circle cx="323.0" cy="140.2" r="2.3" fill="#ff0cc2"/>
<circle cx="342.1" cy="139.6" r="2.3" fill="#0a4cab"/>
<circle cx="352.5" cy="139.6" r="2.3" fill="#0a4cab"/>
<circle cx="372.1" cy="140.2" r="2.3" fill="#0a4cab"/>
<circle cx="377.5" cy="139.3" r="2.3" fill="#0a4cab"/>
<circle cx="361.6" cy="142.4" r="2.3" fill="#0a4cab"/>
<circle cx="353.7" cy="145.8" r="2.3" fill="#0a4cab"/>
<circle cx="343.0" cy="148.7" r="2.3" fill="#ff0cc2"/>
<circle cx="366.3" cy="148.1" r="2.3" fill="#ff0cc2"/>
<circle cx="375.4" cy="147.5" r="2.3" fill="#ff0cc2"/>
<circle cx="379.4" cy="146.3" r="2.3" fill="#ff0cc2"/>
<circle cx="371.2" cy="150.9" r="2.3" fill="#0a4cab"/>
<circle cx="365.7" cy="152.1" r="2.3" fill="#ff0cc2"/>
<circle cx="346.6" cy="154.2" r="2.3" fill="#0a4cab"/>
<circle cx="368.1" cy="155.4" r="2.3" fill="#ff0cc2"/>
<circle cx="349.9" cy="159.2" r="2.3" fill="#0a4cab"/>
<circle cx="344.6" cy="161.5" r="2.3" fill="#0a4cab"/>
<circle cx="339.8" cy="162.7" r="2.3" fill="#0a4cab"/>
<circle cx="392.1" cy="94.2" r="2.3" fill="#0a4cab"/>
<circle cx="403.4" cy="96.5" r="2.3" fill="#ff0cc2"/>
<circle cx="389.4" cy="98.7" r="2.3" fill="#0a4cab"/>
<circle cx="411.2" cy="99.8" r="2.3" fill="#0a4cab"/>
<circle cx="419.4" cy="100.2" r="2.3" fill="#0a4cab"/>
<circle cx="396.6" cy="101.6" r="2.3" fill="#0a4cab"/>
<circle cx="435.7" cy="101.5" r="2.3" fill="#0a4cab"/>
<circle cx="387.0" cy="104.7" r="2.3" fill="#0a4cab"/>
<circle cx="424.8" cy="104.2" r="2.3" fill="#0a4cab"/>
<circle cx="415.4" cy="106.5" r="2.3" fill="#0a4cab"/>
<circle cx="429.4" cy="106.2" r="2.3" fill="#0a4cab"/>
<circle cx="389.0" cy="109.3" r="2.3" fill="#ff0cc2"/>
<circle cx="405.4" cy="108.4" r="2.3" fill="#0a4cab"/>
<circle cx="423.4" cy="108.9" r="2.3" fill="#0a4cab"/>
<circle cx="433.0" cy="108.4" r="2.3" fill="#0a4cab"/>
<circle cx="417.9" cy="109.8" r="2.3" fill="#ff0cc2"/>
<circle cx="397.2" cy="110.7" r="2.3" fill="#0a4cab"/>
<circle cx="408.5" cy="112.4" r="2.3" fill="#0a4cab"/>
<circle cx="429.0" cy="112.5" r="2.3" fill="#ff0cc2"/>
<circle cx="441.5" cy="111.1" r="2.3" fill="#0a4cab"/>
<circle cx="420.3" cy="114.2" r="2.3" fill="#0a4cab"/>
<circle cx="426.3" cy="117.8" r="2.3" fill="#0a4cab"/>
<circle cx="432.6" cy="117.5" r="2.3" fill="#0a4cab"/>
<circle cx="400.6" cy="120.2" r="2.3" fill="#0a4cab"/>
<circle cx="409.0" cy="119.3" r="2.3" fill="#0a4cab"/>
<circle cx="415.4" cy="118.9" r="2.3" fill="#ff0cc2"/>
<circle cx="421.2" cy="120.2" r="2.3" fill="#0a4cab"/>
<circle cx="439.7" cy="119.3" r="2.3" fill="#ff0cc2"/>
<circle cx="445.2" cy="117.8" r="2.3" fill="#0a4cab"/>
<circle cx="453.7" cy="114.9" r="2.3" fill="#0a4cab"/>
<circle cx="451.7" cy="121.5" r="2.3" fill="#ff0cc2"/>
<circle cx="459.8" cy="119.0" r="2.3" fill="#0a4cab"/>
<circle cx="467.5" cy="116.7" r="2.3" fill="#ff0cc2"/>
<circle cx="469.7" cy="125.5" r="2.3" fill="#0a4cab"/>
<circle cx="391.5" cy="125.6" r="2.3" fill="#0a4cab"/>
<circle cx="399.7" cy="126.0" r="2.3" fill="#0a4cab"/>
<circle cx="396.6" cy="128.4" r="2.3" fill="#ff0cc2"/>
<circle cx="406.1" cy="127.5" r="2.3" fill="#0a4cab"/>
<circle cx="414.8" cy="131.1" r="2.3" fill="#0a4cab"/>
<circle cx="392.1" cy="135.1" r="2.3" fill="#ff0cc2"/>
<circle cx="401.7" cy="134.4" r="2.3" fill="#0a4cab"/>
<circle cx="410.6" cy="135.1" r="2.3" fill="#ff0cc2"/>
<circle cx="383.9" cy="138.9" r="2.3" fill="#0a4cab"/>
<circle cx="406.1" cy="138.7" r="2.3" fill="#0a4cab"/>
<circle cx="398.2" cy="142.0" r="2.3" fill="#0a4cab"/>
<circle cx="402.8" cy="143.3" r="2.3" fill="#ff0cc2"/>
<circle cx="409.2" cy="146.3" r="2.3" fill="#0a4cab"/>
<circle cx="384.1" cy="148.7" r="2.3" fill="#0a4cab"/>
<circle cx="485.4" cy="104.4" r="2.3" fill="#0a4cab"/>
<circle cx="488.5" cy="110.7" r="2.3" fill="#0a4cab"/>
<circle cx="487.0" cy="123.8" r="2.3" fill="#0a4cab"/>
<circle cx="492.6" cy="121.1" r="2.3" fill="#0a4cab"/>
<circle cx="494.8" cy="128.9" r="2.3" fill="#0a4cab"/>
<circle cx="356.6" cy="165.5" r="2.3" fill="#ff0cc2"/>
<circle cx="346.1" cy="166.5" r="2.3" fill="#0a4cab"/>
<circle cx="344.3" cy="172.3" r="2.3" fill="#ff0cc2"/>
<circle cx="347.2" cy="174.3" r="2.3" fill="#0a4cab"/>
<circle cx="355.4" cy="175.0" r="2.3" fill="#ff0cc2"/>
<circle cx="355.9" cy="183.2" r="2.3" fill="#ff0cc2"/>
<path d="M358.0 37.8L363.6 37.8L360.8 32.5Z" fill="#ff0808"/>
<path d="M358.7 40.1L364.3 40.1L361.5 34.8Z" fill="#ff0808"/>
<path d="M363.7 44.1L369.3 44.1L366.5 38.8Z" fill="#ff0808"/>
<path d="M338.2 54.9L343.8 54.9L341.0 49.6Z" fill="#ff0808"/>
<path d="M338.7 57.6L344.3 57.6L341.5 52.3Z" fill="#ff0808"/>
<path d="M340.7 62.9L346.3 62.9L343.5 57.6Z" fill="#ff0808"/>
<path d="M342.0 65.0L347.6 65.0L344.8 59.7Z" fill="#ff0808"/>
<path d="M380.3 65.0L385.9 65.0L383.1 59.7Z" fill="#ff0808"/>
<path d="M342.7 73.8L348.3 73.8L345.5 68.5Z" fill="#ff0808"/>
<path d="M343.3 77.4L348.9 77.4L346.1 72.1Z" fill="#ff0808"/>
<path d="M377.1 76.9L382.7 76.9L379.9 71.6Z" fill="#ff0808"/>
<path d="M348.4 86.3L354.0 86.3L351.2 81.0Z" fill="#ff0808"/>
<path d="M343.7 91.0L349.3 91.0L346.5 85.7Z" fill="#ff0808"/>
<path d="M376.2 92.7L381.8 92.7L379.0 87.4Z" fill="#ff0808"/>
<path d="M380.7 61.0L386.3 61.0L383.5 55.7Z" fill="#ff0808"/>
<path d="M410.6 80.5L416.2 80.5L413.4 75.2Z" fill="#ff0808"/>
<path d="M406.6 84.9L412.2 84.9L409.4 79.6Z" fill="#ff0808"/>
<path d="M460.7 80.8L466.3 80.8L463.5 75.5Z" fill="#ff0808"/>
<path d="M462.4 90.1L468.0 90.1L465.2 84.8Z" fill="#ff0808"/>
<path d="M447.8 93.2L453.4 93.2L450.6 87.9Z" fill="#ff0808"/>
<path d="M472.0 93.8L477.6 93.8L474.8 88.5Z" fill="#ff0808"/>
<path d="M343.3 97.1L348.9 97.1L346.1 91.8Z" fill="#ff0808"/>
<path d="M345.7 96.6L351.3 96.6L348.5 91.3Z" fill="#ff0808"/>
<path d="M348.9 94.9L354.5 94.9L351.7 89.6Z" fill="#ff0808"/>
<path d="M359.7 97.1L365.3 97.1L362.5 91.8Z" fill="#ff0808"/>
<path d="M339.3 102.6L344.9 102.6L342.1 97.3Z" fill="#ff0808"/>
<path d="M343.5 102.6L349.1 102.6L346.3 97.3Z" fill="#ff0808"/>
<path d="M326.0 107.5L331.6 107.5L328.8 102.2Z" fill="#ff0808"/>
<path d="M329.7 110.4L335.3 110.4L332.5 105.1Z" fill="#ff0808"/>
<path d="M324.3 149.9L329.9 149.9L327.1 144.6Z" fill="#ff0808"/>
<path d="M327.9 149.9L333.5 149.9L330.7 144.6Z" fill="#ff0808"/>
<path d="M331.5 149.2L337.1 149.2L334.3 143.9Z" fill="#ff0808"/>
<path d="M348.9 153.4L354.5 153.4L351.7 148.1Z" fill="#ff0808"/>
<path d="M423.3 95.3L428.9 95.3L426.1 90.0Z" fill="#ff0808"/>
<path d="M442.4 100.8L448.0 100.8L445.2 95.5Z" fill="#ff0808"/>
<path d="M443.8 105.3L449.4 105.3L446.6 100.0Z" fill="#ff0808"/>
<path d="M439.8 106.2L445.4 106.2L442.6 100.9Z" fill="#ff0808"/>
<path d="M446.0 103.1L451.6 103.1L448.8 97.8Z" fill="#ff0808"/>
<path d="M447.8 104.4L453.4 104.4L450.6 99.1Z" fill="#ff0808"/>
<path d="M452.7 105.9L458.3 105.9L455.5 100.6Z" fill="#ff0808"/>
<path d="M454.6 105.9L460.2 105.9L457.4 100.6Z" fill="#ff0808"/>
<path d="M455.7 108.9L461.3 108.9L458.5 103.6Z" fill="#ff0808"/>
<path d="M447.5 94.9L453.1 94.9L450.3 89.6Z" fill="#ff0808"/>
<path d="M450.7 96.2L456.3 96.2L453.5 90.9Z" fill="#ff0808"/>
<path d="M467.1 97.1L472.7 97.1L469.9 91.8Z" fill="#ff0808"/>
<path d="M472.0 95.3L477.6 95.3L474.8 90.0Z" fill="#ff0808"/>
<path d="M462.9 113.5L468.5 113.5L465.7 108.2Z" fill="#ff0808"/>
<path d="M468.2 113.1L473.8 113.1L471.0 107.8Z" fill="#ff0808"/>
<path d="M470.2 116.0L475.8 116.0L473.0 110.7Z" fill="#ff0808"/>
<path d="M472.0 118.0L477.6 118.0L474.8 112.7Z" fill="#ff0808"/>
<path d="M476.6 125.1L482.2 125.1L479.4 119.8Z" fill="#ff0808"/>
<path d="M502.9 105.7L508.5 105.7L505.7 100.4Z" fill="#ff0808"/>
<path d="M502.6 111.7L508.2 111.7L505.4 106.4Z" fill="#ff0808"/>
<path d="M377.5 103.2L383.1 103.2L380.3 97.9Z" fill="#ff0808"/>
<path d="M368.7 105.9L374.3 105.9L371.5 100.6Z" fill="#ff0808"/>
<path d="M372.2 106.1L377.8 106.1L375.0 100.8Z" fill="#ff0808"/>
<path d="M376.5 105.2L382.1 105.2L379.3 99.9Z" fill="#ff0808"/>
<path d="M366.2 104.6L371.8 104.6L369.0 99.3Z" fill="#ff0808"/>
<path d="M361.5 41.8L367.1 41.8L364.3 36.5Z" fill="#0b7b0b"/>
<path d="M338.2 51.9L343.8 51.9L341.0 46.6Z" fill="#0b7b0b"/>
<path d="M339.8 60.5L345.4 60.5L342.6 55.2Z" fill="#0b7b0b"/>
<path d="M371.3 69.8L376.9 69.8L374.1 64.5Z" fill="#0b7b0b"/>
<path d="M376.6 75.0L382.2 75.0L379.4 69.7Z" fill="#0b7b0b"/>
<path d="M378.4 79.6L384.0 79.6L381.2 74.3Z" fill="#0b7b0b"/>
<path d="M345.7 92.3L351.3 92.3L348.5 87.0Z" fill="#0b7b0b"/>
<path d="M381.7 79.6L387.3 79.6L384.5 74.3Z" fill="#0b7b0b"/>
<path d="M356.9 97.1L362.5 97.1L359.7 91.8Z" fill="#0b7b0b"/>
<path d="M361.7 99.3L367.3 99.3L364.5 94.0Z" fill="#0b7b0b"/>
<path d="M330.6 112.0L336.2 112.0L333.4 106.7Z" fill="#0b7b0b"/>
<path d="M357.5 150.3L363.1 150.3L360.3 145.0Z" fill="#0b7b0b"/>
<path d="M417.1 96.2L422.7 96.2L419.9 90.9Z" fill="#0b7b0b"/>
<path d="M424.4 94.9L430.0 94.9L427.2 89.6Z" fill="#0b7b0b"/>
<path d="M388.9 120.8L394.5 120.8L391.7 115.5Z" fill="#0b7b0b"/>
<path d="M441.7 103.5L447.3 103.5L444.5 98.2Z" fill="#0b7b0b"/>
<path d="M442.9 107.5L448.5 107.5L445.7 102.2Z" fill="#0b7b0b"/>
<path d="M450.7 105.7L456.3 105.7L453.5 100.4Z" fill="#0b7b0b"/>
<path d="M457.5 110.8L463.1 110.8L460.3 105.5Z" fill="#0b7b0b"/>
<path d="M471.1 101.7L476.7 101.7L473.9 96.4Z" fill="#0b7b0b"/>
<path d="M472.5 121.2L478.1 121.2L475.3 115.9Z" fill="#0b7b0b"/>
<path d="M498.4 108.0L504.0 108.0L501.2 102.7Z" fill="#0b7b0b"/>
<path d="M501.1 109.9L506.7 109.9L503.9 104.6Z" fill="#0b7b0b"/>
<path d="M499.7 114.0L505.3 114.0L502.5 108.7Z" fill="#0b7b0b"/>
<path d="M376.2 96.4L381.8 96.4L379.0 91.1Z" fill="#0b7b0b"/>
<path d="M376.1 93.8L381.7 93.8L378.9 88.5Z" fill="#0b7b0b"/>
<path d="M367.1 104.9L372.7 104.9L369.9 99.6Z" fill="#0b7b0b"/>
<path d="M369.2 105.0L374.8 105.0L372.0 99.7Z" fill="#0b7b0b"/>
<path d="M371.4 105.0L377.0 105.0L374.2 99.7Z" fill="#0b7b0b"/>
<path d="M373.6 105.0L379.2 105.0L376.4 99.7Z" fill="#0b7b0b"/>
<path d="M375.5 104.8L381.1 104.8L378.3 99.5Z" fill="#0b7b0b"/>
<path d="M368.7 103.0L374.3 103.0L371.5 97.7Z" fill="#0b7b0b"/>
<path d="M370.7 102.6L376.3 102.6L373.5 97.3Z" fill="#0b7b0b"/>
<path d="M372.7 102.6L378.3 102.6L375.5 97.3Z" fill="#0b7b0b"/>
<path d="M374.7 102.8L380.3 102.8L377.5 97.5Z" fill="#0b7b0b"/>
<path d="M376.2 102.6L381.8 102.6L379.0 97.3Z" fill="#0b7b0b"/>
<path d="M375.8 101.0L381.4 101.0L378.6 95.7Z" fill="#0b7b0b"/>
<path d="M376.0 99.2L381.6 99.2L378.8 93.9Z" fill="#0b7b0b"/>
<rect x="278.5" y="16.6" width="256.2" height="182.3" fill="none" stroke="#111" stroke-width="1.1"/>
<path d="M291.5 16.6v1.6M291.5 198.9v-1.6M316.6 16.6v1.6M316.6 198.9v-1.6M341.7 16.6v1.6M341.7 198.9v-1.6M366.9 16.6v1.6M366.9 198.9v-1.6M392.0 16.6v1.6M392.0 198.9v-1.6M417.1 16.6v1.6M417.1 198.9v-1.6M442.2 16.6v1.6M442.2 198.9v-1.6M467.3 16.6v1.6M467.3 198.9v-1.6M492.5 16.6v1.6M492.5 198.9v-1.6M517.6 16.6v1.6M517.6 198.9v-1.6M278.5 39.4h1.6M534.7 39.4h-1.6M278.5 66.6h1.6M534.7 66.6h-1.6M278.5 93.8h1.6M534.7 93.8h-1.6M278.5 121.0h1.6M534.7 121.0h-1.6M278.5 148.2h1.6M534.7 148.2h-1.6M278.5 175.4h1.6M534.7 175.4h-1.6" stroke="#111" stroke-width="1" fill="none"/>
<g transform="translate(518.8,33.9)" stroke="#222" stroke-width="0.42" stroke-linejoin="miter"><path d="M0 -7.7L2.25 -2.25L6.8 0L2.25 2.25L0 7.7L-2.25 2.25L-6.8 0L-2.25 -2.25Z" fill="#fff"/><path d="M0 -3.6L2.1374999999999997 -2.1374999999999997L3.4 0L0 0Z" fill="#111"/><path d="M0 3.6L-2.1374999999999997 2.1374999999999997L-3.4 0L0 0Z" fill="#111"/><path d="M0 -7.7V7.7M-6.8 0H6.8" fill="none" stroke-width="0.4"/></g><g font-size="2.7" font-weight="bold" fill="#444" text-anchor="middle"><text x="518.9" y="24.299999999999997">N</text><text x="519.0999999999999" y="45.3">S</text><text x="528.4" y="34.8">E</text><text x="508.69999999999993" y="34.8">W</text></g><path d="M378.2 178.2V171.8H385.6V178.2H392.9V171.8H407.6V178.2H422.4V171.8H437.1V178.2" fill="none" stroke="#333" stroke-width="0.9"/><g font-size="6.6" fill="#222" stroke="#222" stroke-width="0.12" text-anchor="middle"><text x="378.2" y="186.8">0</text><text x="385.6" y="186.8">1</text><text x="392.9" y="186.8">2</text><text x="407.6" y="186.8">4</text><text x="422.4" y="186.8">6</text></g><text font-size="6.9" fill="#222" stroke="#222" stroke-width="0.12" x="435.2" y="186.8">8 Km</text><text class="s" font-size="13" fill="#1c2f8c" x="458.4" y="32.6">(b)</text><g font-size="7.3" fill="#222" stroke="#222" stroke-width="0.18" text-anchor="middle"><text x="316.6" y="11.0">87°16'0"E</text><text x="366.8" y="11.0">87°20'0"E</text><text x="417.1" y="11.0">87°24'0"E</text><text x="467.3" y="11.0">87°28'0"E</text><text x="517.6" y="11.0">87°32'0"E</text><text transform="translate(545.2,39.5) rotate(-90)">22°56'0"N</text><text transform="translate(545.2,93.9) rotate(-90)">22°52'0"N</text><text transform="translate(545.2,148.3) rotate(-90)">22°48'0"N</text></g>
</g>
<g id="panel-c">
<path d="M61.5 305.8L57.6 304.2L56.0 300.9L53.8 297.6L51.1 294.6L48.4 292.2L45.6 289.5L43.5 286.7L41.3 285.6L38.0 285.4L34.7 284.0L30.9 281.8L27.6 279.1L26.0 275.8L27.1 272.5L30.4 270.6L34.2 269.8L35.3 267.6L33.6 265.1L33.1 262.9L34.7 261.3L38.0 260.7L41.8 259.6L45.6 257.5L49.5 256.4L52.7 254.7L56.5 253.1L60.4 250.9L63.6 249.3L65.3 247.1L65.5 244.8L67.6 241.5L72.0 238.8L77.5 236.6L81.8 235.0L85.6 233.4L87.8 229.0L90.0 224.6L92.7 223.0L97.6 221.9L103.6 219.7L109.1 218.4L114.5 217.3L120.0 215.9L121.0 216.4L123.7 218.0L125.9 220.7L128.6 222.9L132.5 224.0L138.5 224.0L143.4 224.5L146.6 226.2L149.4 228.9L151.5 231.3L155.4 232.0L160.8 231.9L164.1 232.2L166.8 234.1L169.5 237.1L171.7 238.7L175.0 239.6L180.3 240.6L185.7 241.2L188.5 241.4L191.2 244.5L194.5 247.2L197.7 248.8L202.1 249.6L206.5 249.6L210.8 248.3L215.2 246.3L219.5 243.4L222.8 241.5L223.1 241.8L229.1 236.9L232.9 235.8L236.7 236.9L238.9 238.0L240.5 235.3L242.2 233.4L244.4 234.2L245.8 236.9L245.5 240.7L243.3 243.5L239.5 244.3L235.1 243.5L232.4 244.5L231.3 247.3L232.4 252.2L234.5 256.5L238.4 259.8L242.7 261.5L244.9 264.2L247.6 269.1L249.9 270.8L251.5 274.1L250.5 277.4L248.8 280.1L245.5 281.7L241.7 283.4L240.6 285.0L242.3 286.6L246.6 287.2L252.1 286.3L257.5 286.1L260.3 287.2L260.8 289.6L259.2 294.3L258.1 297.5L257.0 301.4L254.8 304.1L251.5 305.2L247.7 305.0L243.9 306.1L240.1 307.9L236.8 310.1L235.5 312.8L235.7 316.6L236.5 320.5L236.3 323.7L234.1 323.9L230.3 322.6L225.9 319.9L221.5 317.2L217.7 315.5L215.7 315.2L213.0 317.2L209.7 321.0L208.1 321.3L205.4 318.8L202.1 315.5L198.8 313.4L196.1 315.5L192.8 318.1L189.5 317.4L186.3 317.7L183.0 318.5L180.8 316.6L178.6 313.9L176.5 313.7L172.6 315.0L168.8 315.2L165.2 313.5L163.0 312.5L161.4 313.5L159.2 315.7L157.0 317.9L156.5 321.2L155.4 325.0L153.7 328.3L152.1 332.6L149.9 336.5L147.7 339.2L144.5 340.3L140.6 338.1L136.8 335.4L133.0 333.2L129.2 331.5L125.9 332.1L123.7 334.3L124.3 338.1L125.4 340.8L123.2 342.5L119.4 342.7L118.5 341.1L115.2 341.3L113.0 343.5L110.8 346.7L108.6 349.5L105.9 350.2L103.2 347.8L101.0 344.5L99.4 341.3L97.2 340.2L95.5 342.4L96.1 346.7L96.6 351.1L96.3 355.5L96.1 359.8L96.6 364.2L96.5 359.4L97.0 364.8L97.8 370.3L98.9 375.7L98.1 377.7L94.3 378.1L89.9 377.7L87.2 375.7L86.1 371.9L84.5 368.6L81.7 366.1L78.5 365.4L75.2 366.5L71.9 367.0L70.8 364.3L71.1 360.5L71.0 359.8L72.6 356.0L73.5 352.2L72.6 348.4L70.5 345.1L67.7 342.4L65.0 340.2L59.5 338.0L56.2 336.4L54.5 334.2L55.3 330.9L57.3 327.1L59.5 323.8L60.0 320.5L59.2 316.7L59.5 312.9L61.1 309.1Z" fill="#fff" stroke="#8a8a8a" stroke-width="0.9" stroke-linejoin="round"/>
<circle cx="112.9" cy="224.8" r="2.3" fill="#ff0cc2"/>
<circle cx="115.8" cy="232.3" r="2.3" fill="#0a4cab"/>
<circle cx="93.6" cy="233.5" r="2.3" fill="#0a4cab"/>
<circle cx="102.0" cy="237.5" r="2.3" fill="#ff0cc2"/>
<circle cx="114.7" cy="239.9" r="2.3" fill="#0a4cab"/>
<circle cx="86.9" cy="243.0" r="2.3" fill="#0a4cab"/>
<circle cx="98.7" cy="247.0" r="2.3" fill="#0a4cab"/>
<circle cx="109.8" cy="247.4" r="2.3" fill="#ff0cc2"/>
<circle cx="92.2" cy="250.5" r="2.3" fill="#ff0cc2"/>
<circle cx="71.5" cy="246.5" r="2.3" fill="#0a4cab"/>
<circle cx="70.5" cy="251.9" r="2.3" fill="#0a4cab"/>
<circle cx="98.5" cy="255.9" r="2.3" fill="#ff0cc2"/>
<circle cx="60.2" cy="257.0" r="2.3" fill="#0a4cab"/>
<circle cx="74.9" cy="257.2" r="2.3" fill="#0a4cab"/>
<circle cx="68.2" cy="260.5" r="2.3" fill="#ff0cc2"/>
<circle cx="72.5" cy="262.3" r="2.3" fill="#0a4cab"/>
<circle cx="91.6" cy="264.3" r="2.3" fill="#0a4cab"/>
<circle cx="103.6" cy="265.2" r="2.3" fill="#0a4cab"/>
<circle cx="52.0" cy="264.1" r="2.3" fill="#0a4cab"/>
<circle cx="59.6" cy="263.5" r="2.3" fill="#0a4cab"/>
<circle cx="41.1" cy="265.9" r="2.3" fill="#0a4cab"/>
<circle cx="41.8" cy="268.6" r="2.3" fill="#0a4cab"/>
<circle cx="44.4" cy="267.2" r="2.3" fill="#ff0cc2"/>
<circle cx="61.5" cy="268.5" r="2.3" fill="#0a4cab"/>
<circle cx="66.0" cy="266.8" r="2.3" fill="#0a4cab"/>
<circle cx="52.9" cy="269.7" r="2.3" fill="#0a4cab"/>
<circle cx="48.0" cy="271.2" r="2.3" fill="#0a4cab"/>
<circle cx="43.1" cy="273.9" r="2.3" fill="#0a4cab"/>
<circle cx="55.5" cy="275.4" r="2.3" fill="#ff0cc2"/>
<circle cx="99.5" cy="272.6" r="2.3" fill="#0a4cab"/>
<circle cx="74.9" cy="275.5" r="2.3" fill="#0a4cab"/>
<circle cx="30.2" cy="277.0" r="2.3" fill="#ff0cc2"/>
<circle cx="50.0" cy="278.3" r="2.3" fill="#ff0cc2"/>
<circle cx="63.6" cy="277.0" r="2.3" fill="#0a4cab"/>
<circle cx="35.2" cy="281.0" r="2.3" fill="#0a4cab"/>
<circle cx="46.7" cy="279.5" r="2.3" fill="#0a4cab"/>
<circle cx="60.7" cy="279.9" r="2.3" fill="#0a4cab"/>
<circle cx="107.3" cy="276.6" r="2.3" fill="#0a4cab"/>
<circle cx="120.9" cy="223.2" r="2.3" fill="#0a4cab"/>
<circle cx="127.6" cy="233.0" r="2.3" fill="#0a4cab"/>
<circle cx="121.5" cy="235.0" r="2.3" fill="#0a4cab"/>
<circle cx="138.2" cy="231.7" r="2.3" fill="#0a4cab"/>
<circle cx="136.9" cy="240.1" r="2.3" fill="#0a4cab"/>
<circle cx="145.5" cy="238.3" r="2.3" fill="#ff0cc2"/>
<circle cx="159.5" cy="239.9" r="2.3" fill="#0a4cab"/>
<circle cx="152.0" cy="244.1" r="2.3" fill="#0a4cab"/>
<circle cx="165.1" cy="247.2" r="2.3" fill="#ff0cc2"/>
<circle cx="179.5" cy="248.1" r="2.3" fill="#ff0cc2"/>
<circle cx="198.5" cy="249.4" r="2.3" fill="#0a4cab"/>
<circle cx="188.7" cy="251.0" r="2.3" fill="#0a4cab"/>
<circle cx="138.2" cy="251.9" r="2.3" fill="#ff0cc2"/>
<circle cx="147.8" cy="251.5" r="2.3" fill="#0a4cab"/>
<circle cx="158.0" cy="252.3" r="2.3" fill="#0a4cab"/>
<circle cx="169.3" cy="253.2" r="2.3" fill="#0a4cab"/>
<circle cx="205.5" cy="254.4" r="2.3" fill="#0a4cab"/>
<circle cx="125.1" cy="256.6" r="2.3" fill="#0a4cab"/>
<circle cx="166.2" cy="257.0" r="2.3" fill="#0a4cab"/>
<circle cx="185.1" cy="256.6" r="2.3" fill="#0a4cab"/>
<circle cx="211.5" cy="257.7" r="2.3" fill="#0a4cab"/>
<circle cx="218.4" cy="257.7" r="2.3" fill="#ff0cc2"/>
<circle cx="135.5" cy="259.7" r="2.3" fill="#ff0cc2"/>
<circle cx="149.8" cy="258.3" r="2.3" fill="#ff0cc2"/>
<circle cx="157.8" cy="260.5" r="2.3" fill="#ff0cc2"/>
<circle cx="176.9" cy="260.1" r="2.3" fill="#0a4cab"/>
<circle cx="195.0" cy="260.1" r="2.3" fill="#0a4cab"/>
<circle cx="171.5" cy="263.5" r="2.3" fill="#ff0cc2"/>
<circle cx="187.3" cy="264.8" r="2.3" fill="#0a4cab"/>
<circle cx="208.6" cy="265.6" r="2.3" fill="#ff0cc2"/>
<circle cx="219.1" cy="265.9" r="2.3" fill="#0a4cab"/>
<circle cx="134.2" cy="268.1" r="2.3" fill="#ff0cc2"/>
<circle cx="164.0" cy="267.4" r="2.3" fill="#0a4cab"/>
<circle cx="181.3" cy="270.1" r="2.3" fill="#0a4cab"/>
<circle cx="173.6" cy="272.6" r="2.3" fill="#0a4cab"/>
<circle cx="131.1" cy="273.9" r="2.3" fill="#0a4cab"/>
<circle cx="123.3" cy="275.7" r="2.3" fill="#0a4cab"/>
<circle cx="140.7" cy="279.5" r="2.3" fill="#0a4cab"/>
<circle cx="218.7" cy="274.5" r="2.3" fill="#0a4cab"/>
<circle cx="224.5" cy="246.3" r="2.3" fill="#0a4cab"/>
<circle cx="220.9" cy="252.6" r="2.3" fill="#0a4cab"/>
<circle cx="226.9" cy="258.8" r="2.3" fill="#0a4cab"/>
<circle cx="227.3" cy="267.9" r="2.3" fill="#0a4cab"/>
<circle cx="234.4" cy="267.2" r="2.3" fill="#0a4cab"/>
<circle cx="227.8" cy="275.4" r="2.3" fill="#0a4cab"/>
<circle cx="245.8" cy="274.6" r="2.3" fill="#0a4cab"/>
<circle cx="235.5" cy="278.5" r="2.3" fill="#ff0cc2"/>
<circle cx="228.7" cy="281.1" r="2.3" fill="#0a4cab"/>
<circle cx="44.9" cy="284.2" r="2.3" fill="#0a4cab"/>
<circle cx="51.3" cy="283.8" r="2.3" fill="#0a4cab"/>
<circle cx="60.4" cy="285.6" r="2.3" fill="#ff0cc2"/>
<circle cx="68.2" cy="284.5" r="2.3" fill="#0a4cab"/>
<circle cx="54.5" cy="290.2" r="2.3" fill="#ff0cc2"/>
<circle cx="60.0" cy="294.7" r="2.3" fill="#ff0cc2"/>
<circle cx="95.5" cy="294.4" r="2.3" fill="#0a4cab"/>
<circle cx="83.6" cy="300.7" r="2.3" fill="#0a4cab"/>
<circle cx="90.0" cy="299.8" r="2.3" fill="#0a4cab"/>
<circle cx="100.5" cy="301.1" r="2.3" fill="#0a4cab"/>
<circle cx="106.5" cy="299.3" r="2.3" fill="#0a4cab"/>
<circle cx="114.2" cy="301.1" r="2.3" fill="#0a4cab"/>
<circle cx="65.5" cy="303.8" r="2.3" fill="#0a4cab"/>
<circle cx="67.3" cy="308.9" r="2.3" fill="#0a4cab"/>
<circle cx="83.6" cy="307.5" r="2.3" fill="#0a4cab"/>
<circle cx="94.2" cy="305.3" r="2.3" fill="#0a4cab"/>
<circle cx="102.7" cy="305.3" r="2.3" fill="#0a4cab"/>
<circle cx="109.1" cy="306.5" r="2.3" fill="#ff0cc2"/>
<circle cx="119.6" cy="307.5" r="2.3" fill="#ff0cc2"/>
<circle cx="90.5" cy="311.1" r="2.3" fill="#ff0cc2"/>
<circle cx="103.3" cy="311.1" r="2.3" fill="#ff0cc2"/>
<circle cx="110.0" cy="312.5" r="2.3" fill="#0a4cab"/>
<circle cx="86.9" cy="316.2" r="2.3" fill="#0a4cab"/>
<circle cx="97.8" cy="314.7" r="2.3" fill="#0a4cab"/>
<circle cx="115.8" cy="315.5" r="2.3" fill="#0a4cab"/>
<circle cx="108.2" cy="317.8" r="2.3" fill="#ff0cc2"/>
<circle cx="83.3" cy="321.1" r="2.3" fill="#0a4cab"/>
<circle cx="92.2" cy="320.7" r="2.3" fill="#ff0cc2"/>
<circle cx="99.6" cy="321.6" r="2.3" fill="#0a4cab"/>
<circle cx="107.8" cy="322.4" r="2.3" fill="#0a4cab"/>
<circle cx="119.5" cy="320.5" r="2.3" fill="#0a4cab"/>
<circle cx="63.3" cy="323.5" r="2.3" fill="#0a4cab"/>
<circle cx="68.7" cy="324.2" r="2.3" fill="#0a4cab"/>
<circle cx="73.1" cy="325.1" r="2.3" fill="#0a4cab"/>
<circle cx="95.5" cy="325.6" r="2.3" fill="#0a4cab"/>
<circle cx="60.0" cy="330.2" r="2.3" fill="#0a4cab"/>
<circle cx="79.1" cy="329.6" r="2.3" fill="#ff0cc2"/>
<circle cx="89.5" cy="329.6" r="2.3" fill="#0a4cab"/>
<circle cx="109.1" cy="330.2" r="2.3" fill="#ff0cc2"/>
<circle cx="114.5" cy="329.3" r="2.3" fill="#0a4cab"/>
<circle cx="98.6" cy="332.4" r="2.3" fill="#0a4cab"/>
<circle cx="90.7" cy="335.8" r="2.3" fill="#0a4cab"/>
<circle cx="80.0" cy="338.7" r="2.3" fill="#0a4cab"/>
<circle cx="103.3" cy="338.1" r="2.3" fill="#0a4cab"/>
<circle cx="112.4" cy="337.5" r="2.3" fill="#0a4cab"/>
<circle cx="116.4" cy="336.3" r="2.3" fill="#0a4cab"/>
<circle cx="108.2" cy="340.9" r="2.3" fill="#0a4cab"/>
<circle cx="102.7" cy="342.1" r="2.3" fill="#0a4cab"/>
<circle cx="83.6" cy="344.2" r="2.3" fill="#0a4cab"/>
<circle cx="105.1" cy="345.4" r="2.3" fill="#0a4cab"/>
<circle cx="86.9" cy="349.2" r="2.3" fill="#0a4cab"/>
<circle cx="81.6" cy="351.5" r="2.3" fill="#ff0cc2"/>
<circle cx="76.8" cy="352.7" r="2.3" fill="#ff0cc2"/>
<circle cx="129.1" cy="284.2" r="2.3" fill="#0a4cab"/>
<circle cx="140.4" cy="286.5" r="2.3" fill="#0a4cab"/>
<circle cx="126.4" cy="288.7" r="2.3" fill="#0a4cab"/>
<circle cx="148.2" cy="289.8" r="2.3" fill="#ff0cc2"/>
<circle cx="156.4" cy="290.2" r="2.3" fill="#ff0cc2"/>
<circle cx="133.6" cy="291.6" r="2.3" fill="#ff0cc2"/>
<circle cx="172.7" cy="291.5" r="2.3" fill="#0a4cab"/>
<circle cx="124.0" cy="294.7" r="2.3" fill="#0a4cab"/>
<circle cx="161.8" cy="294.2" r="2.3" fill="#0a4cab"/>
<circle cx="152.4" cy="296.5" r="2.3" fill="#0a4cab"/>
<circle cx="166.4" cy="296.2" r="2.3" fill="#0a4cab"/>
<circle cx="126.0" cy="299.3" r="2.3" fill="#0a4cab"/>
<circle cx="142.4" cy="298.4" r="2.3" fill="#ff0cc2"/>
<circle cx="160.4" cy="298.9" r="2.3" fill="#0a4cab"/>
<circle cx="170.0" cy="298.4" r="2.3" fill="#0a4cab"/>
<circle cx="154.9" cy="299.8" r="2.3" fill="#0a4cab"/>
<circle cx="134.2" cy="300.7" r="2.3" fill="#ff0cc2"/>
<circle cx="145.5" cy="302.4" r="2.3" fill="#0a4cab"/>
<circle cx="166.0" cy="302.5" r="2.3" fill="#0a4cab"/>
<circle cx="178.5" cy="301.1" r="2.3" fill="#ff0cc2"/>
<circle cx="157.3" cy="304.2" r="2.3" fill="#0a4cab"/>
<circle cx="163.3" cy="307.8" r="2.3" fill="#ff0cc2"/>
<circle cx="169.6" cy="307.5" r="2.3" fill="#0a4cab"/>
<circle cx="137.6" cy="310.2" r="2.3" fill="#0a4cab"/>
<circle cx="146.0" cy="309.3" r="2.3" fill="#0a4cab"/>
<circle cx="152.4" cy="308.9" r="2.3" fill="#0a4cab"/>
<circle cx="158.2" cy="310.2" r="2.3" fill="#ff0cc2"/>
<circle cx="176.7" cy="309.3" r="2.3" fill="#0a4cab"/>
<circle cx="182.2" cy="307.8" r="2.3" fill="#0a4cab"/>
<circle cx="190.7" cy="304.9" r="2.3" fill="#ff0cc2"/>
<circle cx="188.7" cy="311.5" r="2.3" fill="#0a4cab"/>
<circle cx="196.8" cy="309.0" r="2.3" fill="#0a4cab"/>
<circle cx="204.5" cy="306.7" r="2.3" fill="#0a4cab"/>
<circle cx="206.7" cy="315.5" r="2.3" fill="#0a4cab"/>
<circle cx="128.5" cy="315.6" r="2.3" fill="#ff0cc2"/>
<circle cx="136.7" cy="316.0" r="2.3" fill="#0a4cab"/>
<circle cx="133.6" cy="318.4" r="2.3" fill="#0a4cab"/>
<circle cx="143.1" cy="317.5" r="2.3" fill="#0a4cab"/>
<circle cx="151.8" cy="321.1" r="2.3" fill="#ff0cc2"/>
<circle cx="129.1" cy="325.1" r="2.3" fill="#0a4cab"/>
<circle cx="138.7" cy="324.4" r="2.3" fill="#ff0cc2"/>
<circle cx="147.6" cy="325.1" r="2.3" fill="#0a4cab"/>
<circle cx="120.9" cy="328.9" r="2.3" fill="#0a4cab"/>
<circle cx="143.1" cy="328.7" r="2.3" fill="#ff0cc2"/>
<circle cx="135.2" cy="332.0" r="2.3" fill="#0a4cab"/>
<circle cx="139.8" cy="333.3" r="2.3" fill="#0a4cab"/>
<circle cx="146.2" cy="336.3" r="2.3" fill="#0a4cab"/>
<circle cx="121.1" cy="338.7" r="2.3" fill="#0a4cab"/>
<circle cx="222.4" cy="294.4" r="2.3" fill="#ff0cc2"/>
<circle cx="225.5" cy="300.7" r="2.3" fill="#ff0cc2"/>
<circle cx="224.0" cy="313.8" r="2.3" fill="#0a4cab"/>
<circle cx="229.6" cy="311.1" r="2.3" fill="#0a4cab"/>
<circle cx="231.8" cy="318.9" r="2.3" fill="#0a4cab"/>
<circle cx="93.6" cy="355.5" r="2.3" fill="#0a4cab"/>
<circle cx="83.1" cy="356.5" r="2.3" fill="#0a4cab"/>
<circle cx="81.3" cy="362.3" r="2.3" fill="#0a4cab"/>
<circle cx="84.2" cy="364.3" r="2.3" fill="#0a4cab"/>
<circle cx="92.4" cy="365.0" r="2.3" fill="#0a4cab"/>
<circle cx="92.9" cy="373.2" r="2.3" fill="#0a4cab"/>
<path d="M95.0 227.8L100.6 227.8L97.8 222.5Z" fill="#ff0808"/>
<path d="M98.5 231.8L104.1 231.8L101.3 226.5Z" fill="#ff0808"/>
<path d="M100.7 234.1L106.3 234.1L103.5 228.8Z" fill="#ff0808"/>
<path d="M75.2 241.9L80.8 241.9L78.0 236.6Z" fill="#ff0808"/>
<path d="M75.7 247.6L81.3 247.6L78.5 242.3Z" fill="#ff0808"/>
<path d="M76.8 250.5L82.4 250.5L79.6 245.2Z" fill="#ff0808"/>
<path d="M77.7 252.9L83.3 252.9L80.5 247.6Z" fill="#ff0808"/>
<path d="M79.0 255.0L84.6 255.0L81.8 249.7Z" fill="#ff0808"/>
<path d="M108.3 259.8L113.9 259.8L111.1 254.5Z" fill="#ff0808"/>
<path d="M79.7 263.8L85.3 263.8L82.5 258.5Z" fill="#ff0808"/>
<path d="M80.3 267.4L85.9 267.4L83.1 262.1Z" fill="#ff0808"/>
<path d="M114.1 266.9L119.7 266.9L116.9 261.6Z" fill="#ff0808"/>
<path d="M80.7 281.0L86.3 281.0L83.5 275.7Z" fill="#ff0808"/>
<path d="M117.7 251.0L123.3 251.0L120.5 245.7Z" fill="#ff0808"/>
<path d="M118.7 269.6L124.3 269.6L121.5 264.3Z" fill="#ff0808"/>
<path d="M147.6 270.5L153.2 270.5L150.4 265.2Z" fill="#ff0808"/>
<path d="M197.7 270.8L203.3 270.8L200.5 265.5Z" fill="#ff0808"/>
<path d="M199.4 280.1L205.0 280.1L202.2 274.8Z" fill="#ff0808"/>
<path d="M184.8 283.2L190.4 283.2L187.6 277.9Z" fill="#ff0808"/>
<path d="M209.0 283.8L214.6 283.8L211.8 278.5Z" fill="#ff0808"/>
<path d="M80.3 287.1L85.9 287.1L83.1 281.8Z" fill="#ff0808"/>
<path d="M82.7 286.6L88.3 286.6L85.5 281.3Z" fill="#ff0808"/>
<path d="M93.9 287.1L99.5 287.1L96.7 281.8Z" fill="#ff0808"/>
<path d="M96.7 287.1L102.3 287.1L99.5 281.8Z" fill="#ff0808"/>
<path d="M98.7 289.3L104.3 289.3L101.5 284.0Z" fill="#ff0808"/>
<path d="M63.0 297.5L68.6 297.5L65.8 292.2Z" fill="#ff0808"/>
<path d="M67.6 302.0L73.2 302.0L70.4 296.7Z" fill="#ff0808"/>
<path d="M61.3 339.9L66.9 339.9L64.1 334.6Z" fill="#ff0808"/>
<path d="M64.9 339.9L70.5 339.9L67.7 334.6Z" fill="#ff0808"/>
<path d="M68.5 339.2L74.1 339.2L71.3 333.9Z" fill="#ff0808"/>
<path d="M94.5 340.3L100.1 340.3L97.3 335.0Z" fill="#ff0808"/>
<path d="M154.1 286.2L159.7 286.2L156.9 280.9Z" fill="#ff0808"/>
<path d="M161.4 284.9L167.0 284.9L164.2 279.6Z" fill="#ff0808"/>
<path d="M160.3 285.3L165.9 285.3L163.1 280.0Z" fill="#ff0808"/>
<path d="M125.9 310.8L131.5 310.8L128.7 305.5Z" fill="#ff0808"/>
<path d="M179.4 290.8L185.0 290.8L182.2 285.5Z" fill="#ff0808"/>
<path d="M178.7 293.5L184.3 293.5L181.5 288.2Z" fill="#ff0808"/>
<path d="M176.8 296.2L182.4 296.2L179.6 290.9Z" fill="#ff0808"/>
<path d="M179.9 297.5L185.5 297.5L182.7 292.2Z" fill="#ff0808"/>
<path d="M184.8 294.4L190.4 294.4L187.6 289.1Z" fill="#ff0808"/>
<path d="M189.7 295.9L195.3 295.9L192.5 290.6Z" fill="#ff0808"/>
<path d="M184.5 284.9L190.1 284.9L187.3 279.6Z" fill="#ff0808"/>
<path d="M204.1 287.1L209.7 287.1L206.9 281.8Z" fill="#ff0808"/>
<path d="M209.0 285.3L214.6 285.3L211.8 280.0Z" fill="#ff0808"/>
<path d="M208.1 291.7L213.7 291.7L210.9 286.4Z" fill="#ff0808"/>
<path d="M199.9 303.5L205.5 303.5L202.7 298.2Z" fill="#ff0808"/>
<path d="M209.0 308.0L214.6 308.0L211.8 302.7Z" fill="#ff0808"/>
<path d="M209.5 311.2L215.1 311.2L212.3 305.9Z" fill="#ff0808"/>
<path d="M213.6 315.1L219.2 315.1L216.4 309.8Z" fill="#ff0808"/>
<path d="M235.4 298.0L241.0 298.0L238.2 292.7Z" fill="#ff0808"/>
<path d="M238.1 299.9L243.7 299.9L240.9 294.6Z" fill="#ff0808"/>
<path d="M236.7 304.0L242.3 304.0L239.5 298.7Z" fill="#ff0808"/>
<path d="M113.2 286.4L118.8 286.4L116.0 281.1Z" fill="#ff0808"/>
<path d="M114.5 293.2L120.1 293.2L117.3 287.9Z" fill="#ff0808"/>
<path d="M105.7 295.9L111.3 295.9L108.5 290.6Z" fill="#ff0808"/>
<path d="M109.2 296.1L114.8 296.1L112.0 290.8Z" fill="#ff0808"/>
<path d="M113.5 295.2L119.1 295.2L116.3 289.9Z" fill="#ff0808"/>
<path d="M103.2 294.6L108.8 294.6L106.0 289.3Z" fill="#ff0808"/>
<path d="M95.7 230.1L101.3 230.1L98.5 224.8Z" fill="#0b7b0b"/>
<path d="M75.2 244.9L80.8 244.9L78.0 239.6Z" fill="#0b7b0b"/>
<path d="M117.3 255.0L122.9 255.0L120.1 249.7Z" fill="#0b7b0b"/>
<path d="M113.6 265.0L119.2 265.0L116.4 259.7Z" fill="#0b7b0b"/>
<path d="M115.4 269.6L121.0 269.6L118.2 264.3Z" fill="#0b7b0b"/>
<path d="M85.4 276.3L91.0 276.3L88.2 271.0Z" fill="#0b7b0b"/>
<path d="M82.7 282.3L88.3 282.3L85.5 277.0Z" fill="#0b7b0b"/>
<path d="M113.2 282.7L118.8 282.7L116.0 277.4Z" fill="#0b7b0b"/>
<path d="M143.6 274.9L149.2 274.9L146.4 269.6Z" fill="#0b7b0b"/>
<path d="M85.9 284.9L91.5 284.9L88.7 279.6Z" fill="#0b7b0b"/>
<path d="M76.3 292.6L81.9 292.6L79.1 287.3Z" fill="#0b7b0b"/>
<path d="M80.5 292.6L86.1 292.6L83.3 287.3Z" fill="#0b7b0b"/>
<path d="M66.7 300.4L72.3 300.4L69.5 295.1Z" fill="#0b7b0b"/>
<path d="M85.9 343.4L91.5 343.4L88.7 338.1Z" fill="#0b7b0b"/>
<path d="M180.8 295.3L186.4 295.3L183.6 290.0Z" fill="#0b7b0b"/>
<path d="M183.0 293.1L188.6 293.1L185.8 287.8Z" fill="#0b7b0b"/>
<path d="M187.7 295.7L193.3 295.7L190.5 290.4Z" fill="#0b7b0b"/>
<path d="M191.6 295.9L197.2 295.9L194.4 290.6Z" fill="#0b7b0b"/>
<path d="M192.7 298.9L198.3 298.9L195.5 293.6Z" fill="#0b7b0b"/>
<path d="M194.5 300.8L200.1 300.8L197.3 295.5Z" fill="#0b7b0b"/>
<path d="M187.7 286.2L193.3 286.2L190.5 280.9Z" fill="#0b7b0b"/>
<path d="M205.2 303.1L210.8 303.1L208.0 297.8Z" fill="#0b7b0b"/>
<path d="M207.2 306.0L212.8 306.0L210.0 300.7Z" fill="#0b7b0b"/>
<path d="M239.9 295.7L245.5 295.7L242.7 290.4Z" fill="#0b7b0b"/>
<path d="M239.6 301.7L245.2 301.7L242.4 296.4Z" fill="#0b7b0b"/>
<path d="M113.1 283.8L118.7 283.8L115.9 278.5Z" fill="#0b7b0b"/>
<path d="M104.1 294.9L109.7 294.9L106.9 289.6Z" fill="#0b7b0b"/>
<path d="M106.2 295.0L111.8 295.0L109.0 289.7Z" fill="#0b7b0b"/>
<path d="M108.4 295.0L114.0 295.0L111.2 289.7Z" fill="#0b7b0b"/>
<path d="M110.6 295.0L116.2 295.0L113.4 289.7Z" fill="#0b7b0b"/>
<path d="M112.5 294.8L118.1 294.8L115.3 289.5Z" fill="#0b7b0b"/>
<path d="M105.7 293.0L111.3 293.0L108.5 287.7Z" fill="#0b7b0b"/>
<path d="M107.7 292.6L113.3 292.6L110.5 287.3Z" fill="#0b7b0b"/>
<path d="M109.7 292.6L115.3 292.6L112.5 287.3Z" fill="#0b7b0b"/>
<path d="M111.7 292.8L117.3 292.8L114.5 287.5Z" fill="#0b7b0b"/>
<path d="M113.2 292.6L118.8 292.6L116.0 287.3Z" fill="#0b7b0b"/>
<path d="M112.8 291.0L118.4 291.0L115.6 285.7Z" fill="#0b7b0b"/>
<path d="M113.0 289.2L118.6 289.2L115.8 283.9Z" fill="#0b7b0b"/>
<rect x="15.4" y="205.2" width="256.2" height="183.5" fill="none" stroke="#111" stroke-width="1.1"/>
<path d="M28.5 205.2v1.6M28.5 388.7v-1.6M53.6 205.2v1.6M53.6 388.7v-1.6M78.7 205.2v1.6M78.7 388.7v-1.6M103.9 205.2v1.6M103.9 388.7v-1.6M129.0 205.2v1.6M129.0 388.7v-1.6M154.1 205.2v1.6M154.1 388.7v-1.6M179.2 205.2v1.6M179.2 388.7v-1.6M204.3 205.2v1.6M204.3 388.7v-1.6M229.5 205.2v1.6M229.5 388.7v-1.6M254.6 205.2v1.6M254.6 388.7v-1.6M15.4 229.4h1.6M271.6 229.4h-1.6M15.4 256.6h1.6M271.6 256.6h-1.6M15.4 283.8h1.6M271.6 283.8h-1.6M15.4 311.0h1.6M271.6 311.0h-1.6M15.4 338.2h1.6M271.6 338.2h-1.6M15.4 365.4h1.6M271.6 365.4h-1.6" stroke="#111" stroke-width="1" fill="none"/>
<g transform="translate(30.2,222.2)" stroke="#222" stroke-width="0.42" stroke-linejoin="miter"><path d="M0 -7.7L2.25 -2.25L6.8 0L2.25 2.25L0 7.7L-2.25 2.25L-6.8 0L-2.25 -2.25Z" fill="#fff"/><path d="M0 -3.6L2.1374999999999997 -2.1374999999999997L3.4 0L0 0Z" fill="#111"/><path d="M0 3.6L-2.1374999999999997 2.1374999999999997L-3.4 0L0 0Z" fill="#111"/><path d="M0 -7.7V7.7M-6.8 0H6.8" fill="none" stroke-width="0.4"/></g><g font-size="2.7" font-weight="bold" fill="#444" text-anchor="middle"><text x="30.3" y="212.6">N</text><text x="30.5" y="233.6">S</text><text x="39.8" y="223.1">E</text><text x="20.1" y="223.1">W</text></g><path d="M114.5 365.9V359.5H121.9V365.9H129.2V359.5H143.9V365.9H158.7V359.5H173.4V365.9" fill="none" stroke="#333" stroke-width="0.9"/><g font-size="6.6" fill="#222" stroke="#222" stroke-width="0.12" text-anchor="middle"><text x="114.5" y="374.5">0</text><text x="121.9" y="374.5">1</text><text x="129.2" y="374.5">2</text><text x="143.9" y="374.5">4</text><text x="158.7" y="374.5">6</text></g><text font-size="6.9" fill="#222" stroke="#222" stroke-width="0.12" x="171.5" y="374.5">8 Km</text><text class="s" font-size="13" fill="#1c2f8c" x="195.0" y="223.8">(c)</text><g font-size="7.3" fill="#222" stroke="#222" stroke-width="0.18" text-anchor="middle"><text x="53.6" y="400.4">87°16'0"E</text><text x="103.8" y="400.4">87°20'0"E</text><text x="154.1" y="400.4">87°24'0"E</text><text x="204.3" y="400.4">87°28'0"E</text><text x="254.6" y="400.4">87°32'0"E</text><text transform="translate(9.0,229.5) rotate(-90)">22°56'0"N</text><text transform="translate(9.0,283.9) rotate(-90)">22°52'0"N</text><text transform="translate(9.0,338.3) rotate(-90)">22°48'0"N</text></g>
</g>
<g id="panel-d">
<path d="M324.5 306.3L320.6 304.7L319.0 301.4L316.8 298.1L314.1 295.1L311.4 292.7L308.6 290.0L306.5 287.2L304.3 286.1L301.0 285.9L297.7 284.5L293.9 282.3L290.6 279.6L289.0 276.3L290.1 273.0L293.4 271.1L297.2 270.3L298.3 268.1L296.6 265.6L296.1 263.4L297.7 261.8L301.0 261.2L304.8 260.1L308.6 258.0L312.5 256.9L315.7 255.2L319.5 253.6L323.4 251.4L326.6 249.8L328.3 247.6L328.5 245.3L330.6 242.0L335.0 239.3L340.5 237.1L344.8 235.5L348.6 233.9L350.8 229.5L353.0 225.1L355.7 223.5L360.6 222.4L366.6 220.2L372.1 218.9L377.5 217.8L383.0 216.4L384.0 216.9L386.7 218.5L388.9 221.2L391.6 223.4L395.5 224.5L401.5 224.5L406.4 225.0L409.6 226.7L412.4 229.4L414.5 231.8L418.4 232.5L423.8 232.4L427.1 232.7L429.8 234.6L432.5 237.6L434.7 239.2L438.0 240.1L443.3 241.1L448.7 241.7L451.5 241.9L454.2 245.0L457.5 247.7L460.7 249.3L465.1 250.1L469.5 250.1L473.8 248.8L478.2 246.8L482.5 243.9L485.8 242.0L486.1 242.3L492.1 237.4L495.9 236.3L499.7 237.4L501.9 238.5L503.5 235.8L505.2 233.9L507.4 234.7L508.8 237.4L508.5 241.2L506.3 244.0L502.5 244.8L498.1 244.0L495.4 245.0L494.3 247.8L495.4 252.7L497.5 257.0L501.4 260.3L505.7 262.0L507.9 264.7L510.6 269.6L512.9 271.3L514.5 274.6L513.5 277.9L511.8 280.6L508.5 282.2L504.7 283.9L503.6 285.5L505.3 287.1L509.6 287.7L515.1 286.8L520.5 286.6L523.3 287.7L523.8 290.1L522.2 294.8L521.1 298.0L520.0 301.9L517.8 304.6L514.5 305.7L510.7 305.5L506.9 306.6L503.1 308.4L499.8 310.6L498.5 313.3L498.7 317.1L499.5 321.0L499.3 324.2L497.1 324.4L493.3 323.1L488.9 320.4L484.5 317.7L480.7 316.0L478.7 315.7L476.0 317.7L472.7 321.5L471.1 321.8L468.4 319.3L465.1 316.0L461.8 313.9L459.1 316.0L455.8 318.6L452.5 317.9L449.3 318.2L446.0 319.0L443.8 317.1L441.6 314.4L439.5 314.2L435.6 315.5L431.8 315.7L428.2 314.0L426.0 313.0L424.4 314.0L422.2 316.2L420.0 318.4L419.5 321.7L418.4 325.5L416.7 328.8L415.1 333.1L412.9 337.0L410.7 339.7L407.5 340.8L403.6 338.6L399.8 335.9L396.0 333.7L392.2 332.0L388.9 332.6L386.7 334.8L387.3 338.6L388.4 341.3L386.2 343.0L382.4 343.2L381.5 341.6L378.2 341.8L376.0 344.0L373.8 347.2L371.6 350.0L368.9 350.7L366.2 348.3L364.0 345.0L362.4 341.8L360.2 340.7L358.5 342.9L359.1 347.2L359.6 351.6L359.3 356.0L359.1 360.3L359.6 364.7L359.5 359.9L360.0 365.3L360.8 370.8L361.9 376.2L361.1 378.2L357.3 378.6L352.9 378.2L350.2 376.2L349.1 372.4L347.5 369.1L344.7 366.6L341.5 365.9L338.2 367.0L334.9 367.5L333.8 364.8L334.1 361.0L334.0 360.3L335.6 356.5L336.5 352.7L335.6 348.9L333.5 345.6L330.7 342.9L328.0 340.7L322.5 338.5L319.2 336.9L317.5 334.7L318.3 331.4L320.3 327.6L322.5 324.3L323.0 321.0L322.2 317.2L322.5 313.4L324.1 309.6Z" fill="#fff" stroke="#8a8a8a" stroke-width="0.9" stroke-linejoin="round"/>
<circle cx="375.9" cy="225.3" r="2.3" fill="#0a4cab"/>
<circle cx="378.8" cy="232.8" r="2.3" fill="#ff0cc2"/>
<circle cx="356.6" cy="234.0" r="2.3" fill="#0a4cab"/>
<circle cx="365.0" cy="238.0" r="2.3" fill="#0a4cab"/>
<circle cx="377.7" cy="240.4" r="2.3" fill="#0a4cab"/>
<circle cx="349.9" cy="243.5" r="2.3" fill="#0a4cab"/>
<circle cx="361.7" cy="247.5" r="2.3" fill="#ff0cc2"/>
<circle cx="372.8" cy="247.9" r="2.3" fill="#0a4cab"/>
<circle cx="355.2" cy="251.0" r="2.3" fill="#0a4cab"/>
<circle cx="334.5" cy="247.0" r="2.3" fill="#0a4cab"/>
<circle cx="333.5" cy="252.4" r="2.3" fill="#0a4cab"/>
<circle cx="361.5" cy="256.4" r="2.3" fill="#0a4cab"/>
<circle cx="323.2" cy="257.5" r="2.3" fill="#0a4cab"/>
<circle cx="337.9" cy="257.7" r="2.3" fill="#ff0cc2"/>
<circle cx="331.2" cy="261.0" r="2.3" fill="#0a4cab"/>
<circle cx="335.5" cy="262.8" r="2.3" fill="#ff0cc2"/>
<circle cx="354.6" cy="264.8" r="2.3" fill="#0a4cab"/>
<circle cx="366.6" cy="265.7" r="2.3" fill="#ff0cc2"/>
<circle cx="315.0" cy="264.6" r="2.3" fill="#ff0cc2"/>
<circle cx="322.6" cy="264.0" r="2.3" fill="#ff0cc2"/>
<circle cx="304.1" cy="266.4" r="2.3" fill="#ff0cc2"/>
<circle cx="304.8" cy="269.1" r="2.3" fill="#0a4cab"/>
<circle cx="307.4" cy="267.7" r="2.3" fill="#0a4cab"/>
<circle cx="324.5" cy="269.0" r="2.3" fill="#0a4cab"/>
<circle cx="329.0" cy="267.3" r="2.3" fill="#0a4cab"/>
<circle cx="315.9" cy="270.2" r="2.3" fill="#0a4cab"/>
<circle cx="311.0" cy="271.7" r="2.3" fill="#0a4cab"/>
<circle cx="306.1" cy="274.4" r="2.3" fill="#ff0cc2"/>
<circle cx="318.5" cy="275.9" r="2.3" fill="#0a4cab"/>
<circle cx="362.5" cy="273.1" r="2.3" fill="#0a4cab"/>
<circle cx="337.9" cy="276.0" r="2.3" fill="#0a4cab"/>
<circle cx="293.2" cy="277.5" r="2.3" fill="#0a4cab"/>
<circle cx="313.0" cy="278.8" r="2.3" fill="#0a4cab"/>
<circle cx="326.6" cy="277.5" r="2.3" fill="#0a4cab"/>
<circle cx="298.2" cy="281.5" r="2.3" fill="#0a4cab"/>
<circle cx="309.7" cy="280.0" r="2.3" fill="#0a4cab"/>
<circle cx="323.7" cy="280.4" r="2.3" fill="#0a4cab"/>
<circle cx="370.3" cy="277.1" r="2.3" fill="#0a4cab"/>
<circle cx="383.9" cy="223.7" r="2.3" fill="#ff0cc2"/>
<circle cx="390.6" cy="233.5" r="2.3" fill="#0a4cab"/>
<circle cx="384.5" cy="235.5" r="2.3" fill="#ff0cc2"/>
<circle cx="401.2" cy="232.2" r="2.3" fill="#0a4cab"/>
<circle cx="399.9" cy="240.6" r="2.3" fill="#ff0cc2"/>
<circle cx="408.5" cy="238.8" r="2.3" fill="#0a4cab"/>
<circle cx="422.5" cy="240.4" r="2.3" fill="#ff0cc2"/>
<circle cx="415.0" cy="244.6" r="2.3" fill="#ff0cc2"/>
<circle cx="428.1" cy="247.7" r="2.3" fill="#0a4cab"/>
<circle cx="442.5" cy="248.6" r="2.3" fill="#0a4cab"/>
<circle cx="461.5" cy="249.9" r="2.3" fill="#0a4cab"/>
<circle cx="451.7" cy="251.5" r="2.3" fill="#0a4cab"/>
<circle cx="401.2" cy="252.4" r="2.3" fill="#0a4cab"/>
<circle cx="410.8" cy="252.0" r="2.3" fill="#0a4cab"/>
<circle cx="421.0" cy="252.8" r="2.3" fill="#ff0cc2"/>
<circle cx="432.3" cy="253.7" r="2.3" fill="#ff0cc2"/>
<circle cx="468.5" cy="254.9" r="2.3" fill="#0a4cab"/>
<circle cx="388.1" cy="257.1" r="2.3" fill="#0a4cab"/>
<circle cx="429.2" cy="257.5" r="2.3" fill="#0a4cab"/>
<circle cx="448.1" cy="257.1" r="2.3" fill="#0a4cab"/>
<circle cx="474.5" cy="258.2" r="2.3" fill="#0a4cab"/>
<circle cx="481.4" cy="258.2" r="2.3" fill="#0a4cab"/>
<circle cx="398.5" cy="260.2" r="2.3" fill="#0a4cab"/>
<circle cx="412.8" cy="258.8" r="2.3" fill="#0a4cab"/>
<circle cx="420.8" cy="261.0" r="2.3" fill="#0a4cab"/>
<circle cx="439.9" cy="260.6" r="2.3" fill="#0a4cab"/>
<circle cx="458.0" cy="260.6" r="2.3" fill="#0a4cab"/>
<circle cx="434.5" cy="264.0" r="2.3" fill="#0a4cab"/>
<circle cx="450.3" cy="265.3" r="2.3" fill="#0a4cab"/>
<circle cx="471.6" cy="266.1" r="2.3" fill="#0a4cab"/>
<circle cx="482.1" cy="266.4" r="2.3" fill="#ff0cc2"/>
<circle cx="397.2" cy="268.6" r="2.3" fill="#0a4cab"/>
<circle cx="427.0" cy="267.9" r="2.3" fill="#0a4cab"/>
<circle cx="444.3" cy="270.6" r="2.3" fill="#ff0cc2"/>
<circle cx="436.6" cy="273.1" r="2.3" fill="#0a4cab"/>
<circle cx="394.1" cy="274.4" r="2.3" fill="#0a4cab"/>
<circle cx="386.3" cy="276.2" r="2.3" fill="#0a4cab"/>
<circle cx="403.7" cy="280.0" r="2.3" fill="#0a4cab"/>
<circle cx="481.7" cy="275.0" r="2.3" fill="#ff0cc2"/>
<circle cx="487.5" cy="246.8" r="2.3" fill="#0a4cab"/>
<circle cx="483.9" cy="253.1" r="2.3" fill="#0a4cab"/>
<circle cx="489.9" cy="259.3" r="2.3" fill="#ff0cc2"/>
<circle cx="490.3" cy="268.4" r="2.3" fill="#0a4cab"/>
<circle cx="497.4" cy="267.7" r="2.3" fill="#0a4cab"/>
<circle cx="490.8" cy="275.9" r="2.3" fill="#ff0cc2"/>
<circle cx="508.8" cy="275.1" r="2.3" fill="#0a4cab"/>
<circle cx="498.5" cy="279.0" r="2.3" fill="#0a4cab"/>
<circle cx="491.7" cy="281.6" r="2.3" fill="#0a4cab"/>
<circle cx="307.9" cy="284.7" r="2.3" fill="#ff0cc2"/>
<circle cx="314.3" cy="284.3" r="2.3" fill="#0a4cab"/>
<circle cx="323.4" cy="286.1" r="2.3" fill="#0a4cab"/>
<circle cx="331.2" cy="285.0" r="2.3" fill="#0a4cab"/>
<circle cx="317.5" cy="290.7" r="2.3" fill="#0a4cab"/>
<circle cx="323.0" cy="295.2" r="2.3" fill="#0a4cab"/>
<circle cx="358.5" cy="294.9" r="2.3" fill="#ff0cc2"/>
<circle cx="346.6" cy="301.2" r="2.3" fill="#0a4cab"/>
<circle cx="353.0" cy="300.3" r="2.3" fill="#0a4cab"/>
<circle cx="363.5" cy="301.6" r="2.3" fill="#0a4cab"/>
<circle cx="369.5" cy="299.8" r="2.3" fill="#ff0cc2"/>
<circle cx="377.2" cy="301.6" r="2.3" fill="#0a4cab"/>
<circle cx="328.5" cy="304.3" r="2.3" fill="#ff0cc2"/>
<circle cx="330.3" cy="309.4" r="2.3" fill="#0a4cab"/>
<circle cx="346.6" cy="308.0" r="2.3" fill="#0a4cab"/>
<circle cx="357.2" cy="305.8" r="2.3" fill="#ff0cc2"/>
<circle cx="365.7" cy="305.8" r="2.3" fill="#ff0cc2"/>
<circle cx="372.1" cy="307.0" r="2.3" fill="#0a4cab"/>
<circle cx="382.6" cy="308.0" r="2.3" fill="#0a4cab"/>
<circle cx="353.5" cy="311.6" r="2.3" fill="#0a4cab"/>
<circle cx="366.3" cy="311.6" r="2.3" fill="#0a4cab"/>
<circle cx="373.0" cy="313.0" r="2.3" fill="#0a4cab"/>
<circle cx="349.9" cy="316.7" r="2.3" fill="#ff0cc2"/>
<circle cx="360.8" cy="315.2" r="2.3" fill="#0a4cab"/>
<circle cx="378.8" cy="316.0" r="2.3" fill="#0a4cab"/>
<circle cx="371.2" cy="318.3" r="2.3" fill="#0a4cab"/>
<circle cx="346.3" cy="321.6" r="2.3" fill="#0a4cab"/>
<circle cx="355.2" cy="321.2" r="2.3" fill="#0a4cab"/>
<circle cx="362.6" cy="322.1" r="2.3" fill="#0a4cab"/>
<circle cx="370.8" cy="322.9" r="2.3" fill="#0a4cab"/>
<circle cx="382.5" cy="321.0" r="2.3" fill="#ff0cc2"/>
<circle cx="326.3" cy="324.0" r="2.3" fill="#0a4cab"/>
<circle cx="331.7" cy="324.7" r="2.3" fill="#ff0cc2"/>
<circle cx="336.1" cy="325.6" r="2.3" fill="#0a4cab"/>
<circle cx="358.5" cy="326.1" r="2.3" fill="#0a4cab"/>
<circle cx="323.0" cy="330.7" r="2.3" fill="#0a4cab"/>
<circle cx="342.1" cy="330.1" r="2.3" fill="#0a4cab"/>
<circle cx="352.5" cy="330.1" r="2.3" fill="#0a4cab"/>
<circle cx="372.1" cy="330.7" r="2.3" fill="#0a4cab"/>
<circle cx="377.5" cy="329.8" r="2.3" fill="#0a4cab"/>
<circle cx="361.6" cy="332.9" r="2.3" fill="#0a4cab"/>
<circle cx="353.7" cy="336.3" r="2.3" fill="#ff0cc2"/>
<circle cx="343.0" cy="339.2" r="2.3" fill="#0a4cab"/>
<circle cx="366.3" cy="338.6" r="2.3" fill="#0a4cab"/>
<circle cx="375.4" cy="338.0" r="2.3" fill="#0a4cab"/>
<circle cx="379.4" cy="336.8" r="2.3" fill="#0a4cab"/>
<circle cx="371.2" cy="341.4" r="2.3" fill="#ff0cc2"/>
<circle cx="365.7" cy="342.6" r="2.3" fill="#0a4cab"/>
<circle cx="346.6" cy="344.7" r="2.3" fill="#0a4cab"/>
<circle cx="368.1" cy="345.9" r="2.3" fill="#0a4cab"/>
<circle cx="349.9" cy="349.7" r="2.3" fill="#ff0cc2"/>
<circle cx="344.6" cy="352.0" r="2.3" fill="#0a4cab"/>
<circle cx="339.8" cy="353.2" r="2.3" fill="#0a4cab"/>
<circle cx="392.1" cy="284.7" r="2.3" fill="#ff0cc2"/>
<circle cx="403.4" cy="287.0" r="2.3" fill="#0a4cab"/>
<circle cx="389.4" cy="289.2" r="2.3" fill="#0a4cab"/>
<circle cx="411.2" cy="290.3" r="2.3" fill="#0a4cab"/>
<circle cx="419.4" cy="290.7" r="2.3" fill="#0a4cab"/>
<circle cx="396.6" cy="292.1" r="2.3" fill="#0a4cab"/>
<circle cx="435.7" cy="292.0" r="2.3" fill="#ff0cc2"/>
<circle cx="387.0" cy="295.2" r="2.3" fill="#0a4cab"/>
<circle cx="424.8" cy="294.7" r="2.3" fill="#ff0cc2"/>
<circle cx="415.4" cy="297.0" r="2.3" fill="#ff0cc2"/>
<circle cx="429.4" cy="296.7" r="2.3" fill="#ff0cc2"/>
<circle cx="389.0" cy="299.8" r="2.3" fill="#0a4cab"/>
<circle cx="405.4" cy="298.9" r="2.3" fill="#0a4cab"/>
<circle cx="423.4" cy="299.4" r="2.3" fill="#0a4cab"/>
<circle cx="433.0" cy="298.9" r="2.3" fill="#0a4cab"/>
<circle cx="417.9" cy="300.3" r="2.3" fill="#0a4cab"/>
<circle cx="397.2" cy="301.2" r="2.3" fill="#0a4cab"/>
<circle cx="408.5" cy="302.9" r="2.3" fill="#0a4cab"/>
<circle cx="429.0" cy="303.0" r="2.3" fill="#0a4cab"/>
<circle cx="441.5" cy="301.6" r="2.3" fill="#0a4cab"/>
<circle cx="420.3" cy="304.7" r="2.3" fill="#ff0cc2"/>
<circle cx="426.3" cy="308.3" r="2.3" fill="#0a4cab"/>
<circle cx="432.6" cy="308.0" r="2.3" fill="#0a4cab"/>
<circle cx="400.6" cy="310.7" r="2.3" fill="#ff0cc2"/>
<circle cx="409.0" cy="309.8" r="2.3" fill="#ff0cc2"/>
<circle cx="415.4" cy="309.4" r="2.3" fill="#0a4cab"/>
<circle cx="421.2" cy="310.7" r="2.3" fill="#0a4cab"/>
<circle cx="439.7" cy="309.8" r="2.3" fill="#0a4cab"/>
<circle cx="445.2" cy="308.3" r="2.3" fill="#ff0cc2"/>
<circle cx="453.7" cy="305.4" r="2.3" fill="#0a4cab"/>
<circle cx="451.7" cy="312.0" r="2.3" fill="#0a4cab"/>
<circle cx="459.8" cy="309.5" r="2.3" fill="#ff0cc2"/>
<circle cx="467.5" cy="307.2" r="2.3" fill="#0a4cab"/>
<circle cx="469.7" cy="316.0" r="2.3" fill="#ff0cc2"/>
<circle cx="391.5" cy="316.1" r="2.3" fill="#0a4cab"/>
<circle cx="399.7" cy="316.5" r="2.3" fill="#ff0cc2"/>
<circle cx="396.6" cy="318.9" r="2.3" fill="#0a4cab"/>
<circle cx="406.1" cy="318.0" r="2.3" fill="#ff0cc2"/>
<circle cx="414.8" cy="321.6" r="2.3" fill="#0a4cab"/>
<circle cx="392.1" cy="325.6" r="2.3" fill="#0a4cab"/>
<circle cx="401.7" cy="324.9" r="2.3" fill="#0a4cab"/>
<circle cx="410.6" cy="325.6" r="2.3" fill="#0a4cab"/>
<circle cx="383.9" cy="329.4" r="2.3" fill="#0a4cab"/>
<circle cx="406.1" cy="329.2" r="2.3" fill="#0a4cab"/>
<circle cx="398.2" cy="332.5" r="2.3" fill="#0a4cab"/>
<circle cx="402.8" cy="333.8" r="2.3" fill="#0a4cab"/>
<circle cx="409.2" cy="336.8" r="2.3" fill="#ff0cc2"/>
<circle cx="384.1" cy="339.2" r="2.3" fill="#ff0cc2"/>
<circle cx="485.4" cy="294.9" r="2.3" fill="#0a4cab"/>
<circle cx="488.5" cy="301.2" r="2.3" fill="#0a4cab"/>
<circle cx="487.0" cy="314.3" r="2.3" fill="#ff0cc2"/>
<circle cx="492.6" cy="311.6" r="2.3" fill="#0a4cab"/>
<circle cx="494.8" cy="319.4" r="2.3" fill="#0a4cab"/>
<circle cx="356.6" cy="356.0" r="2.3" fill="#0a4cab"/>
<circle cx="346.1" cy="357.0" r="2.3" fill="#ff0cc2"/>
<circle cx="344.3" cy="362.8" r="2.3" fill="#0a4cab"/>
<circle cx="347.2" cy="364.8" r="2.3" fill="#0a4cab"/>
<circle cx="355.4" cy="365.5" r="2.3" fill="#0a4cab"/>
<circle cx="355.9" cy="373.7" r="2.3" fill="#0a4cab"/>
<path d="M358.0 228.3L363.6 228.3L360.8 223.0Z" fill="#ff0808"/>
<path d="M358.7 230.6L364.3 230.6L361.5 225.3Z" fill="#ff0808"/>
<path d="M361.5 232.3L367.1 232.3L364.3 227.0Z" fill="#ff0808"/>
<path d="M363.7 234.6L369.3 234.6L366.5 229.3Z" fill="#ff0808"/>
<path d="M338.2 242.4L343.8 242.4L341.0 237.1Z" fill="#ff0808"/>
<path d="M338.2 245.4L343.8 245.4L341.0 240.1Z" fill="#ff0808"/>
<path d="M338.7 248.1L344.3 248.1L341.5 242.8Z" fill="#ff0808"/>
<path d="M339.8 251.0L345.4 251.0L342.6 245.7Z" fill="#ff0808"/>
<path d="M340.7 253.4L346.3 253.4L343.5 248.1Z" fill="#ff0808"/>
<path d="M371.3 260.3L376.9 260.3L374.1 255.0Z" fill="#ff0808"/>
<path d="M342.7 264.3L348.3 264.3L345.5 259.0Z" fill="#ff0808"/>
<path d="M376.6 265.5L382.2 265.5L379.4 260.2Z" fill="#ff0808"/>
<path d="M377.1 267.4L382.7 267.4L379.9 262.1Z" fill="#ff0808"/>
<path d="M348.4 276.8L354.0 276.8L351.2 271.5Z" fill="#ff0808"/>
<path d="M345.7 282.8L351.3 282.8L348.5 277.5Z" fill="#ff0808"/>
<path d="M376.2 283.2L381.8 283.2L379.0 277.9Z" fill="#ff0808"/>
<path d="M380.7 251.5L386.3 251.5L383.5 246.2Z" fill="#ff0808"/>
<path d="M381.7 270.1L387.3 270.1L384.5 264.8Z" fill="#ff0808"/>
<path d="M406.6 275.4L412.2 275.4L409.4 270.1Z" fill="#ff0808"/>
<path d="M462.4 280.6L468.0 280.6L465.2 275.3Z" fill="#ff0808"/>
<path d="M472.0 284.3L477.6 284.3L474.8 279.0Z" fill="#ff0808"/>
<path d="M343.3 287.6L348.9 287.6L346.1 282.3Z" fill="#ff0808"/>
<path d="M345.7 287.1L351.3 287.1L348.5 281.8Z" fill="#ff0808"/>
<path d="M348.9 285.4L354.5 285.4L351.7 280.1Z" fill="#ff0808"/>
<path d="M361.7 289.8L367.3 289.8L364.5 284.5Z" fill="#ff0808"/>
<path d="M339.3 293.1L344.9 293.1L342.1 287.8Z" fill="#ff0808"/>
<path d="M343.5 293.1L349.1 293.1L346.3 287.8Z" fill="#ff0808"/>
<path d="M329.7 300.9L335.3 300.9L332.5 295.6Z" fill="#ff0808"/>
<path d="M330.6 302.5L336.2 302.5L333.4 297.2Z" fill="#ff0808"/>
<path d="M324.3 340.4L329.9 340.4L327.1 335.1Z" fill="#ff0808"/>
<path d="M348.9 343.9L354.5 343.9L351.7 338.6Z" fill="#ff0808"/>
<path d="M417.1 286.7L422.7 286.7L419.9 281.4Z" fill="#ff0808"/>
<path d="M424.4 285.4L430.0 285.4L427.2 280.1Z" fill="#ff0808"/>
<path d="M423.3 285.8L428.9 285.8L426.1 280.5Z" fill="#ff0808"/>
<path d="M388.9 311.3L394.5 311.3L391.7 306.0Z" fill="#ff0808"/>
<path d="M439.8 296.7L445.4 296.7L442.6 291.4Z" fill="#ff0808"/>
<path d="M447.8 294.9L453.4 294.9L450.6 289.6Z" fill="#ff0808"/>
<path d="M450.7 296.2L456.3 296.2L453.5 290.9Z" fill="#ff0808"/>
<path d="M454.6 296.4L460.2 296.4L457.4 291.1Z" fill="#ff0808"/>
<path d="M455.7 299.4L461.3 299.4L458.5 294.1Z" fill="#ff0808"/>
<path d="M457.5 301.3L463.1 301.3L460.3 296.0Z" fill="#ff0808"/>
<path d="M450.7 286.7L456.3 286.7L453.5 281.4Z" fill="#ff0808"/>
<path d="M467.1 287.6L472.7 287.6L469.9 282.3Z" fill="#ff0808"/>
<path d="M472.0 285.8L477.6 285.8L474.8 280.5Z" fill="#ff0808"/>
<path d="M471.1 292.2L476.7 292.2L473.9 286.9Z" fill="#ff0808"/>
<path d="M468.2 303.6L473.8 303.6L471.0 298.3Z" fill="#ff0808"/>
<path d="M470.2 306.5L475.8 306.5L473.0 301.2Z" fill="#ff0808"/>
<path d="M472.0 308.5L477.6 308.5L474.8 303.2Z" fill="#ff0808"/>
<path d="M472.5 311.7L478.1 311.7L475.3 306.4Z" fill="#ff0808"/>
<path d="M476.6 315.6L482.2 315.6L479.4 310.3Z" fill="#ff0808"/>
<path d="M502.9 296.2L508.5 296.2L505.7 290.9Z" fill="#ff0808"/>
<path d="M498.4 298.5L504.0 298.5L501.2 293.2Z" fill="#ff0808"/>
<path d="M501.1 300.4L506.7 300.4L503.9 295.1Z" fill="#ff0808"/>
<path d="M502.6 302.2L508.2 302.2L505.4 296.9Z" fill="#ff0808"/>
<path d="M499.7 304.5L505.3 304.5L502.5 299.2Z" fill="#ff0808"/>
<path d="M376.1 284.3L381.7 284.3L378.9 279.0Z" fill="#ff0808"/>
<path d="M377.5 293.7L383.1 293.7L380.3 288.4Z" fill="#ff0808"/>
<path d="M368.7 296.4L374.3 296.4L371.5 291.1Z" fill="#ff0808"/>
<path d="M372.2 296.6L377.8 296.6L375.0 291.3Z" fill="#ff0808"/>
<path d="M376.5 295.7L382.1 295.7L379.3 290.4Z" fill="#ff0808"/>
<path d="M366.2 295.1L371.8 295.1L369.0 289.8Z" fill="#ff0808"/>
<path d="M342.0 255.5L347.6 255.5L344.8 250.2Z" fill="#0b7b0b"/>
<path d="M380.3 255.5L385.9 255.5L383.1 250.2Z" fill="#0b7b0b"/>
<path d="M343.3 267.9L348.9 267.9L346.1 262.6Z" fill="#0b7b0b"/>
<path d="M378.4 270.1L384.0 270.1L381.2 264.8Z" fill="#0b7b0b"/>
<path d="M343.7 281.5L349.3 281.5L346.5 276.2Z" fill="#0b7b0b"/>
<path d="M410.6 271.0L416.2 271.0L413.4 265.7Z" fill="#0b7b0b"/>
<path d="M460.7 271.3L466.3 271.3L463.5 266.0Z" fill="#0b7b0b"/>
<path d="M447.8 283.7L453.4 283.7L450.6 278.4Z" fill="#0b7b0b"/>
<path d="M356.9 287.6L362.5 287.6L359.7 282.3Z" fill="#0b7b0b"/>
<path d="M359.7 287.6L365.3 287.6L362.5 282.3Z" fill="#0b7b0b"/>
<path d="M326.0 298.0L331.6 298.0L328.8 292.7Z" fill="#0b7b0b"/>
<path d="M327.9 340.4L333.5 340.4L330.7 335.1Z" fill="#0b7b0b"/>
<path d="M331.5 339.7L337.1 339.7L334.3 334.4Z" fill="#0b7b0b"/>
<path d="M357.5 340.8L363.1 340.8L360.3 335.5Z" fill="#0b7b0b"/>
<path d="M442.4 291.3L448.0 291.3L445.2 286.0Z" fill="#0b7b0b"/>
<path d="M441.7 294.0L447.3 294.0L444.5 288.7Z" fill="#0b7b0b"/>
<path d="M443.8 295.8L449.4 295.8L446.6 290.5Z" fill="#0b7b0b"/>
<path d="M442.9 298.0L448.5 298.0L445.7 292.7Z" fill="#0b7b0b"/>
<path d="M446.0 293.6L451.6 293.6L448.8 288.3Z" fill="#0b7b0b"/>
<path d="M452.7 296.4L458.3 296.4L455.5 291.1Z" fill="#0b7b0b"/>
<path d="M447.5 285.4L453.1 285.4L450.3 280.1Z" fill="#0b7b0b"/>
<path d="M462.9 304.0L468.5 304.0L465.7 298.7Z" fill="#0b7b0b"/>
<path d="M376.2 286.9L381.8 286.9L379.0 281.6Z" fill="#0b7b0b"/>
<path d="M367.1 295.4L372.7 295.4L369.9 290.1Z" fill="#0b7b0b"/>
<path d="M369.2 295.5L374.8 295.5L372.0 290.2Z" fill="#0b7b0b"/>
<path d="M371.4 295.5L377.0 295.5L374.2 290.2Z" fill="#0b7b0b"/>
<path d="M373.6 295.5L379.2 295.5L376.4 290.2Z" fill="#0b7b0b"/>
<path d="M375.5 295.3L381.1 295.3L378.3 290.0Z" fill="#0b7b0b"/>
<path d="M368.7 293.5L374.3 293.5L371.5 288.2Z" fill="#0b7b0b"/>
<path d="M370.7 293.1L376.3 293.1L373.5 287.8Z" fill="#0b7b0b"/>
<path d="M372.7 293.1L378.3 293.1L375.5 287.8Z" fill="#0b7b0b"/>
<path d="M374.7 293.3L380.3 293.3L377.5 288.0Z" fill="#0b7b0b"/>
<path d="M376.2 293.1L381.8 293.1L379.0 287.8Z" fill="#0b7b0b"/>
<path d="M375.8 291.5L381.4 291.5L378.6 286.2Z" fill="#0b7b0b"/>
<path d="M376.0 289.7L381.6 289.7L378.8 284.4Z" fill="#0b7b0b"/>
<rect x="278.0" y="206.6" width="257.3" height="182.1" fill="none" stroke="#111" stroke-width="1.1"/>
<path d="M291.5 206.6v1.6M291.5 388.7v-1.6M316.6 206.6v1.6M316.6 388.7v-1.6M341.7 206.6v1.6M341.7 388.7v-1.6M366.9 206.6v1.6M366.9 388.7v-1.6M392.0 206.6v1.6M392.0 388.7v-1.6M417.1 206.6v1.6M417.1 388.7v-1.6M442.2 206.6v1.6M442.2 388.7v-1.6M467.3 206.6v1.6M467.3 388.7v-1.6M492.5 206.6v1.6M492.5 388.7v-1.6M517.6 206.6v1.6M517.6 388.7v-1.6M278.0 229.9h1.6M535.3 229.9h-1.6M278.0 257.1h1.6M535.3 257.1h-1.6M278.0 284.3h1.6M535.3 284.3h-1.6M278.0 311.5h1.6M535.3 311.5h-1.6M278.0 338.7h1.6M535.3 338.7h-1.6M278.0 365.9h1.6M535.3 365.9h-1.6" stroke="#111" stroke-width="1" fill="none"/>
<g transform="translate(518.7,221.4)" stroke="#222" stroke-width="0.42" stroke-linejoin="miter"><path d="M0 -7.7L2.25 -2.25L6.8 0L2.25 2.25L0 7.7L-2.25 2.25L-6.8 0L-2.25 -2.25Z" fill="#fff"/><path d="M0 -3.6L2.1374999999999997 -2.1374999999999997L3.4 0L0 0Z" fill="#111"/><path d="M0 3.6L-2.1374999999999997 2.1374999999999997L-3.4 0L0 0Z" fill="#111"/><path d="M0 -7.7V7.7M-6.8 0H6.8" fill="none" stroke-width="0.4"/></g><g font-size="2.7" font-weight="bold" fill="#444" text-anchor="middle"><text x="518.8000000000001" y="211.8">N</text><text x="519.0" y="232.8">S</text><text x="528.3000000000001" y="222.3">E</text><text x="508.6" y="222.3">W</text></g><path d="M376.7 367.8V361.4H384.1V367.8H391.4V361.4H406.1V367.8H420.9V361.4H435.6V367.8" fill="none" stroke="#333" stroke-width="0.9"/><g font-size="6.6" fill="#222" stroke="#222" stroke-width="0.12" text-anchor="middle"><text x="376.7" y="376.4">0</text><text x="384.1" y="376.4">1</text><text x="391.4" y="376.4">2</text><text x="406.1" y="376.4">4</text><text x="420.9" y="376.4">6</text></g><text font-size="6.9" fill="#222" stroke="#222" stroke-width="0.12" x="433.7" y="376.4">8 Km</text><text class="s" font-size="13" fill="#1c2f8c" x="461.0" y="224.3">(d)</text><g font-size="7.3" fill="#222" stroke="#222" stroke-width="0.18" text-anchor="middle"><text x="316.6" y="400.4">87°16'0"E</text><text x="366.8" y="400.4">87°20'0"E</text><text x="417.1" y="400.4">87°24'0"E</text><text x="467.3" y="400.4">87°28'0"E</text><text x="517.6" y="400.4">87°32'0"E</text><text transform="translate(546.4,230.0) rotate(-90)">22°56'0"N</text><text transform="translate(546.4,284.4) rotate(-90)">22°52'0"N</text><text transform="translate(546.4,338.8) rotate(-90)">22°48'0"N</text></g>
</g>
<g id="legend"><rect x="219.9" y="162.6" width="108.5" height="67.8" fill="#fff" stroke="#8c8c8c" stroke-width="1"/><path d="M228.9 174.6L239.9 174.6L234.4 165.0Z" fill="#ff0808"/><path d="M228.9 192.8L239.9 192.8L234.4 183.2Z" fill="#0b7b0b"/><circle cx="234.6" cy="206.0" r="4.6" fill="#0a4cab"/><circle cx="234.6" cy="224.0" r="4.6" fill="#ff0cc2"/><g class="s" font-size="10.65" fill="#111"><text class="s" x="252.8" y="173.0">Gully Train</text><text class="s" x="252.8" y="191.2">Gully Test</text><text class="s" x="252.8" y="209.3">Non-Gully Train</text><text class="s" x="252.8" y="227.5">Non-Gully Test</text></g></g>
</svg></body></html>
